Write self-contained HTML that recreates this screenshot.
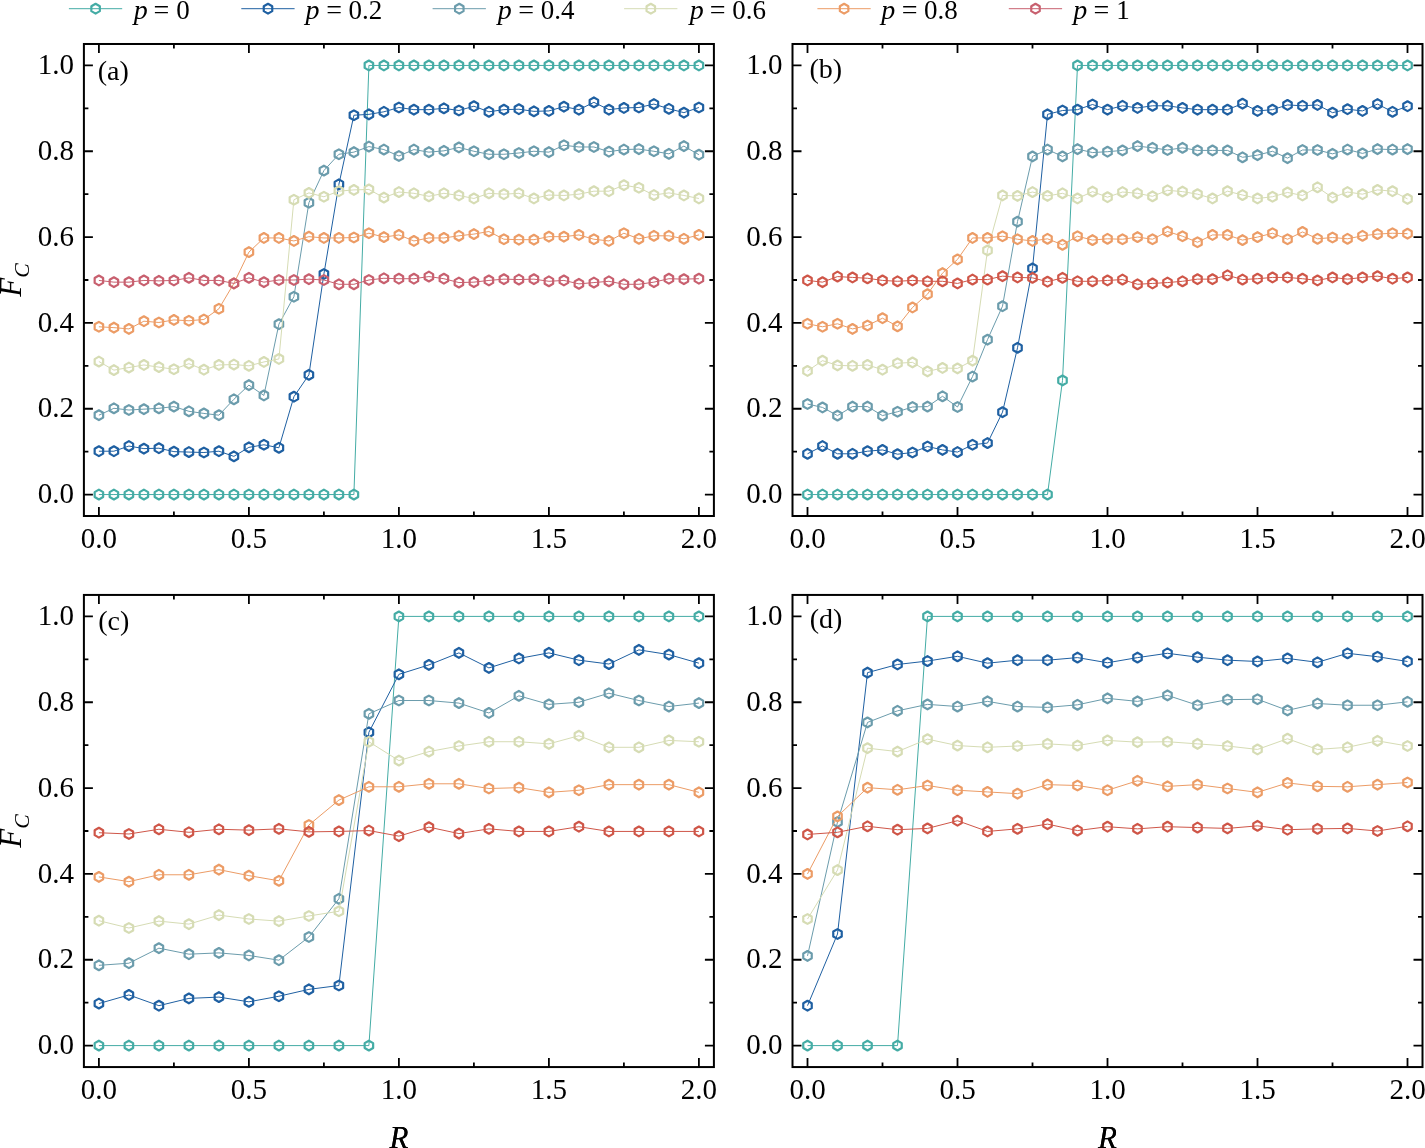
<!DOCTYPE html><html><head><meta charset="utf-8"><title>F_C vs R</title><style>html,body{margin:0;padding:0;background:#fff;}svg{display:block;}text{font-family:"Liberation Serif","Times New Roman",serif;fill:#000;}</style></head><body>
<svg width="1425" height="1148" viewBox="0 0 1425 1148">
<rect width="1425" height="1148" fill="#fff"/>
<g>
<polyline fill="none" stroke="#44aca5" stroke-width="1.00" stroke-linejoin="round" points="98.90,494.55 113.90,494.55 128.90,494.55 143.90,494.55 158.90,494.55 173.90,494.55 188.90,494.55 203.90,494.55 218.90,494.55 233.90,494.55 248.90,494.55 263.90,494.55 278.90,494.55 293.90,494.55 308.90,494.55 323.90,494.55 338.90,494.55 353.90,494.55 368.90,65.45 383.90,65.45 398.90,65.45 413.90,65.45 428.90,65.45 443.90,65.45 458.90,65.45 473.90,65.45 488.90,65.45 503.90,65.45 518.90,65.45 533.90,65.45 548.90,65.45 563.90,65.45 578.90,65.45 593.90,65.45 608.90,65.45 623.90,65.45 638.90,65.45 653.90,65.45 668.90,65.45 683.90,65.45 698.90,65.45"/>
<path fill="none" stroke="#44aca5" stroke-width="2.20" stroke-linejoin="round" d="M98.90,489.65L94.66,492.10L94.66,497.00L98.90,499.45L103.14,497.00L103.14,492.10ZM113.90,489.65L109.66,492.10L109.66,497.00L113.90,499.45L118.14,497.00L118.14,492.10ZM128.90,489.65L124.66,492.10L124.66,497.00L128.90,499.45L133.14,497.00L133.14,492.10ZM143.90,489.65L139.66,492.10L139.66,497.00L143.90,499.45L148.14,497.00L148.14,492.10ZM158.90,489.65L154.66,492.10L154.66,497.00L158.90,499.45L163.14,497.00L163.14,492.10ZM173.90,489.65L169.66,492.10L169.66,497.00L173.90,499.45L178.14,497.00L178.14,492.10ZM188.90,489.65L184.66,492.10L184.66,497.00L188.90,499.45L193.14,497.00L193.14,492.10ZM203.90,489.65L199.66,492.10L199.66,497.00L203.90,499.45L208.14,497.00L208.14,492.10ZM218.90,489.65L214.66,492.10L214.66,497.00L218.90,499.45L223.14,497.00L223.14,492.10ZM233.90,489.65L229.66,492.10L229.66,497.00L233.90,499.45L238.14,497.00L238.14,492.10ZM248.90,489.65L244.66,492.10L244.66,497.00L248.90,499.45L253.14,497.00L253.14,492.10ZM263.90,489.65L259.66,492.10L259.66,497.00L263.90,499.45L268.14,497.00L268.14,492.10ZM278.90,489.65L274.66,492.10L274.66,497.00L278.90,499.45L283.14,497.00L283.14,492.10ZM293.90,489.65L289.66,492.10L289.66,497.00L293.90,499.45L298.14,497.00L298.14,492.10ZM308.90,489.65L304.66,492.10L304.66,497.00L308.90,499.45L313.14,497.00L313.14,492.10ZM323.90,489.65L319.66,492.10L319.66,497.00L323.90,499.45L328.14,497.00L328.14,492.10ZM338.90,489.65L334.66,492.10L334.66,497.00L338.90,499.45L343.14,497.00L343.14,492.10ZM353.90,489.65L349.66,492.10L349.66,497.00L353.90,499.45L358.14,497.00L358.14,492.10ZM368.90,60.55L364.66,63.00L364.66,67.90L368.90,70.35L373.14,67.90L373.14,63.00ZM383.90,60.55L379.66,63.00L379.66,67.90L383.90,70.35L388.14,67.90L388.14,63.00ZM398.90,60.55L394.66,63.00L394.66,67.90L398.90,70.35L403.14,67.90L403.14,63.00ZM413.90,60.55L409.66,63.00L409.66,67.90L413.90,70.35L418.14,67.90L418.14,63.00ZM428.90,60.55L424.66,63.00L424.66,67.90L428.90,70.35L433.14,67.90L433.14,63.00ZM443.90,60.55L439.66,63.00L439.66,67.90L443.90,70.35L448.14,67.90L448.14,63.00ZM458.90,60.55L454.66,63.00L454.66,67.90L458.90,70.35L463.14,67.90L463.14,63.00ZM473.90,60.55L469.66,63.00L469.66,67.90L473.90,70.35L478.14,67.90L478.14,63.00ZM488.90,60.55L484.66,63.00L484.66,67.90L488.90,70.35L493.14,67.90L493.14,63.00ZM503.90,60.55L499.66,63.00L499.66,67.90L503.90,70.35L508.14,67.90L508.14,63.00ZM518.90,60.55L514.66,63.00L514.66,67.90L518.90,70.35L523.14,67.90L523.14,63.00ZM533.90,60.55L529.66,63.00L529.66,67.90L533.90,70.35L538.14,67.90L538.14,63.00ZM548.90,60.55L544.66,63.00L544.66,67.90L548.90,70.35L553.14,67.90L553.14,63.00ZM563.90,60.55L559.66,63.00L559.66,67.90L563.90,70.35L568.14,67.90L568.14,63.00ZM578.90,60.55L574.66,63.00L574.66,67.90L578.90,70.35L583.14,67.90L583.14,63.00ZM593.90,60.55L589.66,63.00L589.66,67.90L593.90,70.35L598.14,67.90L598.14,63.00ZM608.90,60.55L604.66,63.00L604.66,67.90L608.90,70.35L613.14,67.90L613.14,63.00ZM623.90,60.55L619.66,63.00L619.66,67.90L623.90,70.35L628.14,67.90L628.14,63.00ZM638.90,60.55L634.66,63.00L634.66,67.90L638.90,70.35L643.14,67.90L643.14,63.00ZM653.90,60.55L649.66,63.00L649.66,67.90L653.90,70.35L658.14,67.90L658.14,63.00ZM668.90,60.55L664.66,63.00L664.66,67.90L668.90,70.35L673.14,67.90L673.14,63.00ZM683.90,60.55L679.66,63.00L679.66,67.90L683.90,70.35L688.14,67.90L688.14,63.00ZM698.90,60.55L694.66,63.00L694.66,67.90L698.90,70.35L703.14,67.90L703.14,63.00Z"/>
<polyline fill="none" stroke="#1f60a2" stroke-width="1.00" stroke-linejoin="round" points="98.90,451.21 113.90,451.21 128.90,446.06 143.90,448.64 158.90,448.21 173.90,451.64 188.90,452.07 203.90,452.50 218.90,451.21 233.90,456.36 248.90,447.35 263.90,444.77 278.90,447.78 293.90,396.72 308.90,374.83 323.90,273.99 338.90,184.31 353.90,115.23 368.90,114.37 383.90,111.79 398.90,107.50 413.90,109.65 428.90,109.65 443.90,108.36 458.90,110.51 473.90,106.21 488.90,111.79 503.90,109.65 518.90,109.22 533.90,111.36 548.90,110.93 563.90,106.64 578.90,109.65 593.90,102.35 608.90,109.65 623.90,107.93 638.90,107.50 653.90,104.07 668.90,108.79 683.90,112.65 698.90,107.50"/>
<path fill="none" stroke="#1f60a2" stroke-width="2.20" stroke-linejoin="round" d="M98.90,446.31L94.66,448.76L94.66,453.66L98.90,456.11L103.14,453.66L103.14,448.76ZM113.90,446.31L109.66,448.76L109.66,453.66L113.90,456.11L118.14,453.66L118.14,448.76ZM128.90,441.16L124.66,443.61L124.66,448.51L128.90,450.96L133.14,448.51L133.14,443.61ZM143.90,443.74L139.66,446.19L139.66,451.09L143.90,453.54L148.14,451.09L148.14,446.19ZM158.90,443.31L154.66,445.76L154.66,450.66L158.90,453.11L163.14,450.66L163.14,445.76ZM173.90,446.74L169.66,449.19L169.66,454.09L173.90,456.54L178.14,454.09L178.14,449.19ZM188.90,447.17L184.66,449.62L184.66,454.52L188.90,456.97L193.14,454.52L193.14,449.62ZM203.90,447.60L199.66,450.05L199.66,454.95L203.90,457.40L208.14,454.95L208.14,450.05ZM218.90,446.31L214.66,448.76L214.66,453.66L218.90,456.11L223.14,453.66L223.14,448.76ZM233.90,451.46L229.66,453.91L229.66,458.81L233.90,461.26L238.14,458.81L238.14,453.91ZM248.90,442.45L244.66,444.90L244.66,449.80L248.90,452.25L253.14,449.80L253.14,444.90ZM263.90,439.87L259.66,442.32L259.66,447.22L263.90,449.67L268.14,447.22L268.14,442.32ZM278.90,442.88L274.66,445.33L274.66,450.23L278.90,452.68L283.14,450.23L283.14,445.33ZM293.90,391.82L289.66,394.27L289.66,399.17L293.90,401.62L298.14,399.17L298.14,394.27ZM308.90,369.93L304.66,372.38L304.66,377.28L308.90,379.73L313.14,377.28L313.14,372.38ZM323.90,269.09L319.66,271.54L319.66,276.44L323.90,278.89L328.14,276.44L328.14,271.54ZM338.90,179.41L334.66,181.86L334.66,186.76L338.90,189.21L343.14,186.76L343.14,181.86ZM353.90,110.33L349.66,112.78L349.66,117.68L353.90,120.13L358.14,117.68L358.14,112.78ZM368.90,109.47L364.66,111.92L364.66,116.82L368.90,119.27L373.14,116.82L373.14,111.92ZM383.90,106.89L379.66,109.34L379.66,114.24L383.90,116.69L388.14,114.24L388.14,109.34ZM398.90,102.60L394.66,105.05L394.66,109.95L398.90,112.40L403.14,109.95L403.14,105.05ZM413.90,104.75L409.66,107.20L409.66,112.10L413.90,114.55L418.14,112.10L418.14,107.20ZM428.90,104.75L424.66,107.20L424.66,112.10L428.90,114.55L433.14,112.10L433.14,107.20ZM443.90,103.46L439.66,105.91L439.66,110.81L443.90,113.26L448.14,110.81L448.14,105.91ZM458.90,105.61L454.66,108.06L454.66,112.96L458.90,115.41L463.14,112.96L463.14,108.06ZM473.90,101.31L469.66,103.76L469.66,108.66L473.90,111.11L478.14,108.66L478.14,103.76ZM488.90,106.89L484.66,109.34L484.66,114.24L488.90,116.69L493.14,114.24L493.14,109.34ZM503.90,104.75L499.66,107.20L499.66,112.10L503.90,114.55L508.14,112.10L508.14,107.20ZM518.90,104.32L514.66,106.77L514.66,111.67L518.90,114.12L523.14,111.67L523.14,106.77ZM533.90,106.46L529.66,108.91L529.66,113.81L533.90,116.26L538.14,113.81L538.14,108.91ZM548.90,106.03L544.66,108.48L544.66,113.38L548.90,115.83L553.14,113.38L553.14,108.48ZM563.90,101.74L559.66,104.19L559.66,109.09L563.90,111.54L568.14,109.09L568.14,104.19ZM578.90,104.75L574.66,107.20L574.66,112.10L578.90,114.55L583.14,112.10L583.14,107.20ZM593.90,97.45L589.66,99.90L589.66,104.80L593.90,107.25L598.14,104.80L598.14,99.90ZM608.90,104.75L604.66,107.20L604.66,112.10L608.90,114.55L613.14,112.10L613.14,107.20ZM623.90,103.03L619.66,105.48L619.66,110.38L623.90,112.83L628.14,110.38L628.14,105.48ZM638.90,102.60L634.66,105.05L634.66,109.95L638.90,112.40L643.14,109.95L643.14,105.05ZM653.90,99.17L649.66,101.62L649.66,106.52L653.90,108.97L658.14,106.52L658.14,101.62ZM668.90,103.89L664.66,106.34L664.66,111.24L668.90,113.69L673.14,111.24L673.14,106.34ZM683.90,107.75L679.66,110.20L679.66,115.10L683.90,117.55L688.14,115.10L688.14,110.20ZM698.90,102.60L694.66,105.05L694.66,109.95L698.90,112.40L703.14,109.95L703.14,105.05Z"/>
<polyline fill="none" stroke="#6b9cac" stroke-width="1.00" stroke-linejoin="round" points="98.90,415.17 113.90,408.30 128.90,410.02 143.90,409.16 158.90,408.30 173.90,406.58 188.90,411.30 203.90,413.45 218.90,415.17 233.90,399.29 248.90,385.13 263.90,395.43 278.90,324.20 293.90,296.73 308.90,202.76 323.90,170.58 338.90,154.27 353.90,152.13 368.90,146.55 383.90,149.55 398.90,155.99 413.90,149.55 428.90,152.13 443.90,150.84 458.90,147.41 473.90,151.27 488.90,154.27 503.90,154.27 518.90,152.99 533.90,151.27 548.90,152.13 563.90,145.26 578.90,146.98 593.90,146.98 608.90,151.70 623.90,149.55 638.90,149.12 653.90,151.27 668.90,153.84 683.90,146.12 698.90,154.70"/>
<path fill="none" stroke="#6b9cac" stroke-width="2.20" stroke-linejoin="round" d="M98.90,410.27L94.66,412.72L94.66,417.62L98.90,420.07L103.14,417.62L103.14,412.72ZM113.90,403.40L109.66,405.85L109.66,410.75L113.90,413.20L118.14,410.75L118.14,405.85ZM128.90,405.12L124.66,407.57L124.66,412.47L128.90,414.92L133.14,412.47L133.14,407.57ZM143.90,404.26L139.66,406.71L139.66,411.61L143.90,414.06L148.14,411.61L148.14,406.71ZM158.90,403.40L154.66,405.85L154.66,410.75L158.90,413.20L163.14,410.75L163.14,405.85ZM173.90,401.68L169.66,404.13L169.66,409.03L173.90,411.48L178.14,409.03L178.14,404.13ZM188.90,406.40L184.66,408.85L184.66,413.75L188.90,416.20L193.14,413.75L193.14,408.85ZM203.90,408.55L199.66,411.00L199.66,415.90L203.90,418.35L208.14,415.90L208.14,411.00ZM218.90,410.27L214.66,412.72L214.66,417.62L218.90,420.07L223.14,417.62L223.14,412.72ZM233.90,394.39L229.66,396.84L229.66,401.74L233.90,404.19L238.14,401.74L238.14,396.84ZM248.90,380.23L244.66,382.68L244.66,387.58L248.90,390.03L253.14,387.58L253.14,382.68ZM263.90,390.53L259.66,392.98L259.66,397.88L263.90,400.33L268.14,397.88L268.14,392.98ZM278.90,319.30L274.66,321.75L274.66,326.65L278.90,329.10L283.14,326.65L283.14,321.75ZM293.90,291.83L289.66,294.28L289.66,299.18L293.90,301.63L298.14,299.18L298.14,294.28ZM308.90,197.86L304.66,200.31L304.66,205.21L308.90,207.66L313.14,205.21L313.14,200.31ZM323.90,165.68L319.66,168.13L319.66,173.03L323.90,175.48L328.14,173.03L328.14,168.13ZM338.90,149.37L334.66,151.82L334.66,156.72L338.90,159.17L343.14,156.72L343.14,151.82ZM353.90,147.23L349.66,149.68L349.66,154.58L353.90,157.03L358.14,154.58L358.14,149.68ZM368.90,141.65L364.66,144.10L364.66,149.00L368.90,151.45L373.14,149.00L373.14,144.10ZM383.90,144.65L379.66,147.10L379.66,152.00L383.90,154.45L388.14,152.00L388.14,147.10ZM398.90,151.09L394.66,153.54L394.66,158.44L398.90,160.89L403.14,158.44L403.14,153.54ZM413.90,144.65L409.66,147.10L409.66,152.00L413.90,154.45L418.14,152.00L418.14,147.10ZM428.90,147.23L424.66,149.68L424.66,154.58L428.90,157.03L433.14,154.58L433.14,149.68ZM443.90,145.94L439.66,148.39L439.66,153.29L443.90,155.74L448.14,153.29L448.14,148.39ZM458.90,142.51L454.66,144.96L454.66,149.86L458.90,152.31L463.14,149.86L463.14,144.96ZM473.90,146.37L469.66,148.82L469.66,153.72L473.90,156.17L478.14,153.72L478.14,148.82ZM488.90,149.37L484.66,151.82L484.66,156.72L488.90,159.17L493.14,156.72L493.14,151.82ZM503.90,149.37L499.66,151.82L499.66,156.72L503.90,159.17L508.14,156.72L508.14,151.82ZM518.90,148.09L514.66,150.54L514.66,155.44L518.90,157.89L523.14,155.44L523.14,150.54ZM533.90,146.37L529.66,148.82L529.66,153.72L533.90,156.17L538.14,153.72L538.14,148.82ZM548.90,147.23L544.66,149.68L544.66,154.58L548.90,157.03L553.14,154.58L553.14,149.68ZM563.90,140.36L559.66,142.81L559.66,147.71L563.90,150.16L568.14,147.71L568.14,142.81ZM578.90,142.08L574.66,144.53L574.66,149.43L578.90,151.88L583.14,149.43L583.14,144.53ZM593.90,142.08L589.66,144.53L589.66,149.43L593.90,151.88L598.14,149.43L598.14,144.53ZM608.90,146.80L604.66,149.25L604.66,154.15L608.90,156.60L613.14,154.15L613.14,149.25ZM623.90,144.65L619.66,147.10L619.66,152.00L623.90,154.45L628.14,152.00L628.14,147.10ZM638.90,144.22L634.66,146.67L634.66,151.57L638.90,154.02L643.14,151.57L643.14,146.67ZM653.90,146.37L649.66,148.82L649.66,153.72L653.90,156.17L658.14,153.72L658.14,148.82ZM668.90,148.94L664.66,151.39L664.66,156.29L668.90,158.74L673.14,156.29L673.14,151.39ZM683.90,141.22L679.66,143.67L679.66,148.57L683.90,151.02L688.14,148.57L688.14,143.67ZM698.90,149.80L694.66,152.25L694.66,157.15L698.90,159.60L703.14,157.15L703.14,152.25Z"/>
<polyline fill="none" stroke="#d6dcb4" stroke-width="1.00" stroke-linejoin="round" points="98.90,361.53 113.90,370.11 128.90,367.54 143.90,364.96 158.90,367.11 173.90,369.25 188.90,363.67 203.90,369.68 218.90,364.96 233.90,364.53 248.90,365.82 263.90,361.96 278.90,358.95 293.90,199.76 308.90,192.89 323.90,196.75 338.90,191.18 353.90,189.89 368.90,189.46 383.90,197.61 398.90,192.03 413.90,193.32 428.90,196.33 443.90,193.32 458.90,195.47 473.90,198.47 488.90,193.32 503.90,194.18 518.90,193.32 533.90,198.47 548.90,195.04 563.90,195.47 578.90,194.18 593.90,191.18 608.90,191.18 623.90,185.17 638.90,187.74 653.90,195.04 668.90,192.89 683.90,195.47 698.90,198.47"/>
<path fill="none" stroke="#d6dcb4" stroke-width="2.20" stroke-linejoin="round" d="M98.90,356.63L94.66,359.08L94.66,363.98L98.90,366.43L103.14,363.98L103.14,359.08ZM113.90,365.21L109.66,367.66L109.66,372.56L113.90,375.01L118.14,372.56L118.14,367.66ZM128.90,362.64L124.66,365.09L124.66,369.99L128.90,372.44L133.14,369.99L133.14,365.09ZM143.90,360.06L139.66,362.51L139.66,367.41L143.90,369.86L148.14,367.41L148.14,362.51ZM158.90,362.21L154.66,364.66L154.66,369.56L158.90,372.01L163.14,369.56L163.14,364.66ZM173.90,364.35L169.66,366.80L169.66,371.70L173.90,374.15L178.14,371.70L178.14,366.80ZM188.90,358.77L184.66,361.22L184.66,366.12L188.90,368.57L193.14,366.12L193.14,361.22ZM203.90,364.78L199.66,367.23L199.66,372.13L203.90,374.58L208.14,372.13L208.14,367.23ZM218.90,360.06L214.66,362.51L214.66,367.41L218.90,369.86L223.14,367.41L223.14,362.51ZM233.90,359.63L229.66,362.08L229.66,366.98L233.90,369.43L238.14,366.98L238.14,362.08ZM248.90,360.92L244.66,363.37L244.66,368.27L248.90,370.72L253.14,368.27L253.14,363.37ZM263.90,357.06L259.66,359.51L259.66,364.41L263.90,366.86L268.14,364.41L268.14,359.51ZM278.90,354.05L274.66,356.50L274.66,361.40L278.90,363.85L283.14,361.40L283.14,356.50ZM293.90,194.86L289.66,197.31L289.66,202.21L293.90,204.66L298.14,202.21L298.14,197.31ZM308.90,187.99L304.66,190.44L304.66,195.34L308.90,197.79L313.14,195.34L313.14,190.44ZM323.90,191.85L319.66,194.30L319.66,199.20L323.90,201.65L328.14,199.20L328.14,194.30ZM338.90,186.28L334.66,188.73L334.66,193.63L338.90,196.08L343.14,193.63L343.14,188.73ZM353.90,184.99L349.66,187.44L349.66,192.34L353.90,194.79L358.14,192.34L358.14,187.44ZM368.90,184.56L364.66,187.01L364.66,191.91L368.90,194.36L373.14,191.91L373.14,187.01ZM383.90,192.71L379.66,195.16L379.66,200.06L383.90,202.51L388.14,200.06L388.14,195.16ZM398.90,187.13L394.66,189.58L394.66,194.48L398.90,196.93L403.14,194.48L403.14,189.58ZM413.90,188.42L409.66,190.87L409.66,195.77L413.90,198.22L418.14,195.77L418.14,190.87ZM428.90,191.43L424.66,193.88L424.66,198.78L428.90,201.23L433.14,198.78L433.14,193.88ZM443.90,188.42L439.66,190.87L439.66,195.77L443.90,198.22L448.14,195.77L448.14,190.87ZM458.90,190.57L454.66,193.02L454.66,197.92L458.90,200.37L463.14,197.92L463.14,193.02ZM473.90,193.57L469.66,196.02L469.66,200.92L473.90,203.37L478.14,200.92L478.14,196.02ZM488.90,188.42L484.66,190.87L484.66,195.77L488.90,198.22L493.14,195.77L493.14,190.87ZM503.90,189.28L499.66,191.73L499.66,196.63L503.90,199.08L508.14,196.63L508.14,191.73ZM518.90,188.42L514.66,190.87L514.66,195.77L518.90,198.22L523.14,195.77L523.14,190.87ZM533.90,193.57L529.66,196.02L529.66,200.92L533.90,203.37L538.14,200.92L538.14,196.02ZM548.90,190.14L544.66,192.59L544.66,197.49L548.90,199.94L553.14,197.49L553.14,192.59ZM563.90,190.57L559.66,193.02L559.66,197.92L563.90,200.37L568.14,197.92L568.14,193.02ZM578.90,189.28L574.66,191.73L574.66,196.63L578.90,199.08L583.14,196.63L583.14,191.73ZM593.90,186.28L589.66,188.73L589.66,193.63L593.90,196.08L598.14,193.63L598.14,188.73ZM608.90,186.28L604.66,188.73L604.66,193.63L608.90,196.08L613.14,193.63L613.14,188.73ZM623.90,180.27L619.66,182.72L619.66,187.62L623.90,190.07L628.14,187.62L628.14,182.72ZM638.90,182.84L634.66,185.29L634.66,190.19L638.90,192.64L643.14,190.19L643.14,185.29ZM653.90,190.14L649.66,192.59L649.66,197.49L653.90,199.94L658.14,197.49L658.14,192.59ZM668.90,187.99L664.66,190.44L664.66,195.34L668.90,197.79L673.14,195.34L673.14,190.44ZM683.90,190.57L679.66,193.02L679.66,197.92L683.90,200.37L688.14,197.92L688.14,193.02ZM698.90,193.57L694.66,196.02L694.66,200.92L698.90,203.37L703.14,200.92L703.14,196.02Z"/>
<polyline fill="none" stroke="#ec9c66" stroke-width="1.00" stroke-linejoin="round" points="98.90,326.77 113.90,327.63 128.90,328.92 143.90,321.19 158.90,322.48 173.90,319.91 188.90,320.76 203.90,319.48 218.90,308.75 233.90,283.43 248.90,252.11 263.90,237.95 278.90,237.95 293.90,240.95 308.90,236.66 323.90,237.95 338.90,237.95 353.90,237.52 368.90,233.23 383.90,237.09 398.90,234.94 413.90,240.95 428.90,237.95 443.90,237.95 458.90,235.80 473.90,234.09 488.90,231.51 503.90,239.24 518.90,239.66 533.90,239.66 548.90,236.66 563.90,236.66 578.90,234.94 593.90,239.24 608.90,240.95 623.90,233.23 638.90,238.81 653.90,235.80 668.90,235.80 683.90,238.81 698.90,234.94"/>
<path fill="none" stroke="#ec9c66" stroke-width="2.20" stroke-linejoin="round" d="M98.90,321.87L94.66,324.32L94.66,329.22L98.90,331.67L103.14,329.22L103.14,324.32ZM113.90,322.73L109.66,325.18L109.66,330.08L113.90,332.53L118.14,330.08L118.14,325.18ZM128.90,324.02L124.66,326.47L124.66,331.37L128.90,333.82L133.14,331.37L133.14,326.47ZM143.90,316.29L139.66,318.74L139.66,323.64L143.90,326.09L148.14,323.64L148.14,318.74ZM158.90,317.58L154.66,320.03L154.66,324.93L158.90,327.38L163.14,324.93L163.14,320.03ZM173.90,315.01L169.66,317.46L169.66,322.36L173.90,324.81L178.14,322.36L178.14,317.46ZM188.90,315.86L184.66,318.31L184.66,323.21L188.90,325.66L193.14,323.21L193.14,318.31ZM203.90,314.58L199.66,317.03L199.66,321.93L203.90,324.38L208.14,321.93L208.14,317.03ZM218.90,303.85L214.66,306.30L214.66,311.20L218.90,313.65L223.14,311.20L223.14,306.30ZM233.90,278.53L229.66,280.98L229.66,285.88L233.90,288.33L238.14,285.88L238.14,280.98ZM248.90,247.21L244.66,249.66L244.66,254.56L248.90,257.01L253.14,254.56L253.14,249.66ZM263.90,233.05L259.66,235.50L259.66,240.40L263.90,242.85L268.14,240.40L268.14,235.50ZM278.90,233.05L274.66,235.50L274.66,240.40L278.90,242.85L283.14,240.40L283.14,235.50ZM293.90,236.05L289.66,238.50L289.66,243.40L293.90,245.85L298.14,243.40L298.14,238.50ZM308.90,231.76L304.66,234.21L304.66,239.11L308.90,241.56L313.14,239.11L313.14,234.21ZM323.90,233.05L319.66,235.50L319.66,240.40L323.90,242.85L328.14,240.40L328.14,235.50ZM338.90,233.05L334.66,235.50L334.66,240.40L338.90,242.85L343.14,240.40L343.14,235.50ZM353.90,232.62L349.66,235.07L349.66,239.97L353.90,242.42L358.14,239.97L358.14,235.07ZM368.90,228.33L364.66,230.78L364.66,235.68L368.90,238.13L373.14,235.68L373.14,230.78ZM383.90,232.19L379.66,234.64L379.66,239.54L383.90,241.99L388.14,239.54L388.14,234.64ZM398.90,230.04L394.66,232.49L394.66,237.39L398.90,239.84L403.14,237.39L403.14,232.49ZM413.90,236.05L409.66,238.50L409.66,243.40L413.90,245.85L418.14,243.40L418.14,238.50ZM428.90,233.05L424.66,235.50L424.66,240.40L428.90,242.85L433.14,240.40L433.14,235.50ZM443.90,233.05L439.66,235.50L439.66,240.40L443.90,242.85L448.14,240.40L448.14,235.50ZM458.90,230.90L454.66,233.35L454.66,238.25L458.90,240.70L463.14,238.25L463.14,233.35ZM473.90,229.19L469.66,231.64L469.66,236.54L473.90,238.99L478.14,236.54L478.14,231.64ZM488.90,226.61L484.66,229.06L484.66,233.96L488.90,236.41L493.14,233.96L493.14,229.06ZM503.90,234.34L499.66,236.79L499.66,241.69L503.90,244.14L508.14,241.69L508.14,236.79ZM518.90,234.76L514.66,237.21L514.66,242.11L518.90,244.56L523.14,242.11L523.14,237.21ZM533.90,234.76L529.66,237.21L529.66,242.11L533.90,244.56L538.14,242.11L538.14,237.21ZM548.90,231.76L544.66,234.21L544.66,239.11L548.90,241.56L553.14,239.11L553.14,234.21ZM563.90,231.76L559.66,234.21L559.66,239.11L563.90,241.56L568.14,239.11L568.14,234.21ZM578.90,230.04L574.66,232.49L574.66,237.39L578.90,239.84L583.14,237.39L583.14,232.49ZM593.90,234.34L589.66,236.79L589.66,241.69L593.90,244.14L598.14,241.69L598.14,236.79ZM608.90,236.05L604.66,238.50L604.66,243.40L608.90,245.85L613.14,243.40L613.14,238.50ZM623.90,228.33L619.66,230.78L619.66,235.68L623.90,238.13L628.14,235.68L628.14,230.78ZM638.90,233.91L634.66,236.36L634.66,241.26L638.90,243.71L643.14,241.26L643.14,236.36ZM653.90,230.90L649.66,233.35L649.66,238.25L653.90,240.70L658.14,238.25L658.14,233.35ZM668.90,230.90L664.66,233.35L664.66,238.25L668.90,240.70L673.14,238.25L673.14,233.35ZM683.90,233.91L679.66,236.36L679.66,241.26L683.90,243.71L688.14,241.26L688.14,236.36ZM698.90,230.04L694.66,232.49L694.66,237.39L698.90,239.84L703.14,237.39L703.14,232.49Z"/>
<polyline fill="none" stroke="#c8606f" stroke-width="1.00" stroke-linejoin="round" points="98.90,280.43 113.90,282.15 128.90,282.15 143.90,280.43 158.90,280.86 173.90,280.43 188.90,277.85 203.90,280.43 218.90,280.43 233.90,283.43 248.90,277.85 263.90,282.15 278.90,280.00 293.90,280.00 308.90,279.14 323.90,280.00 338.90,284.29 353.90,284.29 368.90,280.00 383.90,278.28 398.90,278.71 413.90,278.71 428.90,276.57 443.90,278.71 458.90,282.57 473.90,282.15 488.90,280.43 503.90,279.14 518.90,279.57 533.90,279.14 548.90,281.29 563.90,280.43 578.90,283.86 593.90,282.57 608.90,281.29 623.90,284.29 638.90,284.29 653.90,282.15 668.90,278.71 683.90,279.14 698.90,278.71"/>
<path fill="none" stroke="#c8606f" stroke-width="2.20" stroke-linejoin="round" d="M98.90,275.53L94.66,277.98L94.66,282.88L98.90,285.33L103.14,282.88L103.14,277.98ZM113.90,277.25L109.66,279.70L109.66,284.60L113.90,287.05L118.14,284.60L118.14,279.70ZM128.90,277.25L124.66,279.70L124.66,284.60L128.90,287.05L133.14,284.60L133.14,279.70ZM143.90,275.53L139.66,277.98L139.66,282.88L143.90,285.33L148.14,282.88L148.14,277.98ZM158.90,275.96L154.66,278.41L154.66,283.31L158.90,285.76L163.14,283.31L163.14,278.41ZM173.90,275.53L169.66,277.98L169.66,282.88L173.90,285.33L178.14,282.88L178.14,277.98ZM188.90,272.95L184.66,275.40L184.66,280.30L188.90,282.75L193.14,280.30L193.14,275.40ZM203.90,275.53L199.66,277.98L199.66,282.88L203.90,285.33L208.14,282.88L208.14,277.98ZM218.90,275.53L214.66,277.98L214.66,282.88L218.90,285.33L223.14,282.88L223.14,277.98ZM233.90,278.53L229.66,280.98L229.66,285.88L233.90,288.33L238.14,285.88L238.14,280.98ZM248.90,272.95L244.66,275.40L244.66,280.30L248.90,282.75L253.14,280.30L253.14,275.40ZM263.90,277.25L259.66,279.70L259.66,284.60L263.90,287.05L268.14,284.60L268.14,279.70ZM278.90,275.10L274.66,277.55L274.66,282.45L278.90,284.90L283.14,282.45L283.14,277.55ZM293.90,275.10L289.66,277.55L289.66,282.45L293.90,284.90L298.14,282.45L298.14,277.55ZM308.90,274.24L304.66,276.69L304.66,281.59L308.90,284.04L313.14,281.59L313.14,276.69ZM323.90,275.10L319.66,277.55L319.66,282.45L323.90,284.90L328.14,282.45L328.14,277.55ZM338.90,279.39L334.66,281.84L334.66,286.74L338.90,289.19L343.14,286.74L343.14,281.84ZM353.90,279.39L349.66,281.84L349.66,286.74L353.90,289.19L358.14,286.74L358.14,281.84ZM368.90,275.10L364.66,277.55L364.66,282.45L368.90,284.90L373.14,282.45L373.14,277.55ZM383.90,273.38L379.66,275.83L379.66,280.73L383.90,283.18L388.14,280.73L388.14,275.83ZM398.90,273.81L394.66,276.26L394.66,281.16L398.90,283.61L403.14,281.16L403.14,276.26ZM413.90,273.81L409.66,276.26L409.66,281.16L413.90,283.61L418.14,281.16L418.14,276.26ZM428.90,271.67L424.66,274.12L424.66,279.02L428.90,281.47L433.14,279.02L433.14,274.12ZM443.90,273.81L439.66,276.26L439.66,281.16L443.90,283.61L448.14,281.16L448.14,276.26ZM458.90,277.67L454.66,280.12L454.66,285.02L458.90,287.47L463.14,285.02L463.14,280.12ZM473.90,277.25L469.66,279.70L469.66,284.60L473.90,287.05L478.14,284.60L478.14,279.70ZM488.90,275.53L484.66,277.98L484.66,282.88L488.90,285.33L493.14,282.88L493.14,277.98ZM503.90,274.24L499.66,276.69L499.66,281.59L503.90,284.04L508.14,281.59L508.14,276.69ZM518.90,274.67L514.66,277.12L514.66,282.02L518.90,284.47L523.14,282.02L523.14,277.12ZM533.90,274.24L529.66,276.69L529.66,281.59L533.90,284.04L538.14,281.59L538.14,276.69ZM548.90,276.39L544.66,278.84L544.66,283.74L548.90,286.19L553.14,283.74L553.14,278.84ZM563.90,275.53L559.66,277.98L559.66,282.88L563.90,285.33L568.14,282.88L568.14,277.98ZM578.90,278.96L574.66,281.41L574.66,286.31L578.90,288.76L583.14,286.31L583.14,281.41ZM593.90,277.67L589.66,280.12L589.66,285.02L593.90,287.47L598.14,285.02L598.14,280.12ZM608.90,276.39L604.66,278.84L604.66,283.74L608.90,286.19L613.14,283.74L613.14,278.84ZM623.90,279.39L619.66,281.84L619.66,286.74L623.90,289.19L628.14,286.74L628.14,281.84ZM638.90,279.39L634.66,281.84L634.66,286.74L638.90,289.19L643.14,286.74L643.14,281.84ZM653.90,277.25L649.66,279.70L649.66,284.60L653.90,287.05L658.14,284.60L658.14,279.70ZM668.90,273.81L664.66,276.26L664.66,281.16L668.90,283.61L673.14,281.16L673.14,276.26ZM683.90,274.24L679.66,276.69L679.66,281.59L683.90,284.04L688.14,281.59L688.14,276.69ZM698.90,273.81L694.66,276.26L694.66,281.16L698.90,283.61L703.14,281.16L703.14,276.26Z"/>
<path fill="none" stroke="#000" stroke-width="1.8" d="M98.90,516.00v-9M98.90,43.99v9M248.90,516.00v-9M248.90,43.99v9M398.90,516.00v-9M398.90,43.99v9M548.90,516.00v-9M548.90,43.99v9M698.90,516.00v-9M698.90,43.99v9M173.90,516.00v-4.5M173.90,43.99v4.5M323.90,516.00v-4.5M323.90,43.99v4.5M473.90,516.00v-4.5M473.90,43.99v4.5M623.90,516.00v-4.5M623.90,43.99v4.5M83.90,494.55h9M713.90,494.55h-9M83.90,408.73h9M713.90,408.73h-9M83.90,322.91h9M713.90,322.91h-9M83.90,237.09h9M713.90,237.09h-9M83.90,151.27h9M713.90,151.27h-9M83.90,65.45h9M713.90,65.45h-9M83.90,451.64h4.5M713.90,451.64h-4.5M83.90,365.82h4.5M713.90,365.82h-4.5M83.90,280.00h4.5M713.90,280.00h-4.5M83.90,194.18h4.5M713.90,194.18h-4.5M83.90,108.36h4.5M713.90,108.36h-4.5"/>
<rect x="83.90" y="43.99" width="630.00" height="472.01" fill="none" stroke="#000" stroke-width="2"/>
<text x="98.90" y="547.61" font-size="29" text-anchor="middle">0.0</text>
<text x="248.90" y="547.61" font-size="29" text-anchor="middle">0.5</text>
<text x="398.90" y="547.61" font-size="29" text-anchor="middle">1.0</text>
<text x="548.90" y="547.61" font-size="29" text-anchor="middle">1.5</text>
<text x="698.90" y="547.61" font-size="29" text-anchor="middle">2.0</text>
<text x="73.90" y="503.15" font-size="29" text-anchor="end">0.0</text>
<text x="73.90" y="417.33" font-size="29" text-anchor="end">0.2</text>
<text x="73.90" y="331.51" font-size="29" text-anchor="end">0.4</text>
<text x="73.90" y="245.69" font-size="29" text-anchor="end">0.6</text>
<text x="73.90" y="159.87" font-size="29" text-anchor="end">0.8</text>
<text x="73.90" y="74.05" font-size="29" text-anchor="end">1.0</text>
<text x="97.80" y="80.00" font-size="28">(a)</text>
<text x="398.90" y="1147.50" font-size="31" font-style="italic" text-anchor="middle">R</text>
</g>
<g>
<polyline fill="none" stroke="#44aca5" stroke-width="1.00" stroke-linejoin="round" points="807.50,494.55 822.50,494.55 837.50,494.55 852.50,494.55 867.50,494.55 882.50,494.55 897.50,494.55 912.50,494.55 927.50,494.55 942.50,494.55 957.50,494.55 972.50,494.55 987.50,494.55 1002.50,494.55 1017.50,494.55 1032.50,494.55 1047.50,494.55 1062.50,380.41 1077.50,65.45 1092.50,65.45 1107.50,65.45 1122.50,65.45 1137.50,65.45 1152.50,65.45 1167.50,65.45 1182.50,65.45 1197.50,65.45 1212.50,65.45 1227.50,65.45 1242.50,65.45 1257.50,65.45 1272.50,65.45 1287.50,65.45 1302.50,65.45 1317.50,65.45 1332.50,65.45 1347.50,65.45 1362.50,65.45 1377.50,65.45 1392.50,65.45 1407.50,65.45"/>
<path fill="none" stroke="#44aca5" stroke-width="2.20" stroke-linejoin="round" d="M807.50,489.65L803.26,492.10L803.26,497.00L807.50,499.45L811.74,497.00L811.74,492.10ZM822.50,489.65L818.26,492.10L818.26,497.00L822.50,499.45L826.74,497.00L826.74,492.10ZM837.50,489.65L833.26,492.10L833.26,497.00L837.50,499.45L841.74,497.00L841.74,492.10ZM852.50,489.65L848.26,492.10L848.26,497.00L852.50,499.45L856.74,497.00L856.74,492.10ZM867.50,489.65L863.26,492.10L863.26,497.00L867.50,499.45L871.74,497.00L871.74,492.10ZM882.50,489.65L878.26,492.10L878.26,497.00L882.50,499.45L886.74,497.00L886.74,492.10ZM897.50,489.65L893.26,492.10L893.26,497.00L897.50,499.45L901.74,497.00L901.74,492.10ZM912.50,489.65L908.26,492.10L908.26,497.00L912.50,499.45L916.74,497.00L916.74,492.10ZM927.50,489.65L923.26,492.10L923.26,497.00L927.50,499.45L931.74,497.00L931.74,492.10ZM942.50,489.65L938.26,492.10L938.26,497.00L942.50,499.45L946.74,497.00L946.74,492.10ZM957.50,489.65L953.26,492.10L953.26,497.00L957.50,499.45L961.74,497.00L961.74,492.10ZM972.50,489.65L968.26,492.10L968.26,497.00L972.50,499.45L976.74,497.00L976.74,492.10ZM987.50,489.65L983.26,492.10L983.26,497.00L987.50,499.45L991.74,497.00L991.74,492.10ZM1002.50,489.65L998.26,492.10L998.26,497.00L1002.50,499.45L1006.74,497.00L1006.74,492.10ZM1017.50,489.65L1013.26,492.10L1013.26,497.00L1017.50,499.45L1021.74,497.00L1021.74,492.10ZM1032.50,489.65L1028.26,492.10L1028.26,497.00L1032.50,499.45L1036.74,497.00L1036.74,492.10ZM1047.50,489.65L1043.26,492.10L1043.26,497.00L1047.50,499.45L1051.74,497.00L1051.74,492.10ZM1062.50,375.51L1058.26,377.96L1058.26,382.86L1062.50,385.31L1066.74,382.86L1066.74,377.96ZM1077.50,60.55L1073.26,63.00L1073.26,67.90L1077.50,70.35L1081.74,67.90L1081.74,63.00ZM1092.50,60.55L1088.26,63.00L1088.26,67.90L1092.50,70.35L1096.74,67.90L1096.74,63.00ZM1107.50,60.55L1103.26,63.00L1103.26,67.90L1107.50,70.35L1111.74,67.90L1111.74,63.00ZM1122.50,60.55L1118.26,63.00L1118.26,67.90L1122.50,70.35L1126.74,67.90L1126.74,63.00ZM1137.50,60.55L1133.26,63.00L1133.26,67.90L1137.50,70.35L1141.74,67.90L1141.74,63.00ZM1152.50,60.55L1148.26,63.00L1148.26,67.90L1152.50,70.35L1156.74,67.90L1156.74,63.00ZM1167.50,60.55L1163.26,63.00L1163.26,67.90L1167.50,70.35L1171.74,67.90L1171.74,63.00ZM1182.50,60.55L1178.26,63.00L1178.26,67.90L1182.50,70.35L1186.74,67.90L1186.74,63.00ZM1197.50,60.55L1193.26,63.00L1193.26,67.90L1197.50,70.35L1201.74,67.90L1201.74,63.00ZM1212.50,60.55L1208.26,63.00L1208.26,67.90L1212.50,70.35L1216.74,67.90L1216.74,63.00ZM1227.50,60.55L1223.26,63.00L1223.26,67.90L1227.50,70.35L1231.74,67.90L1231.74,63.00ZM1242.50,60.55L1238.26,63.00L1238.26,67.90L1242.50,70.35L1246.74,67.90L1246.74,63.00ZM1257.50,60.55L1253.26,63.00L1253.26,67.90L1257.50,70.35L1261.74,67.90L1261.74,63.00ZM1272.50,60.55L1268.26,63.00L1268.26,67.90L1272.50,70.35L1276.74,67.90L1276.74,63.00ZM1287.50,60.55L1283.26,63.00L1283.26,67.90L1287.50,70.35L1291.74,67.90L1291.74,63.00ZM1302.50,60.55L1298.26,63.00L1298.26,67.90L1302.50,70.35L1306.74,67.90L1306.74,63.00ZM1317.50,60.55L1313.26,63.00L1313.26,67.90L1317.50,70.35L1321.74,67.90L1321.74,63.00ZM1332.50,60.55L1328.26,63.00L1328.26,67.90L1332.50,70.35L1336.74,67.90L1336.74,63.00ZM1347.50,60.55L1343.26,63.00L1343.26,67.90L1347.50,70.35L1351.74,67.90L1351.74,63.00ZM1362.50,60.55L1358.26,63.00L1358.26,67.90L1362.50,70.35L1366.74,67.90L1366.74,63.00ZM1377.50,60.55L1373.26,63.00L1373.26,67.90L1377.50,70.35L1381.74,67.90L1381.74,63.00ZM1392.50,60.55L1388.26,63.00L1388.26,67.90L1392.50,70.35L1396.74,67.90L1396.74,63.00ZM1407.50,60.55L1403.26,63.00L1403.26,67.90L1407.50,70.35L1411.74,67.90L1411.74,63.00Z"/>
<polyline fill="none" stroke="#1f60a2" stroke-width="1.00" stroke-linejoin="round" points="807.50,453.79 822.50,446.06 837.50,453.79 852.50,453.79 867.50,451.21 882.50,449.92 897.50,454.21 912.50,452.50 927.50,446.49 942.50,449.92 957.50,452.07 972.50,444.77 987.50,443.06 1002.50,412.16 1017.50,347.80 1032.50,268.41 1047.50,114.37 1062.50,110.51 1077.50,109.65 1092.50,104.50 1107.50,109.65 1122.50,105.79 1137.50,107.93 1152.50,105.79 1167.50,105.79 1182.50,107.93 1197.50,109.65 1212.50,109.65 1227.50,109.65 1242.50,103.64 1257.50,110.93 1272.50,109.65 1287.50,104.93 1302.50,105.79 1317.50,104.93 1332.50,112.65 1347.50,109.22 1362.50,110.93 1377.50,104.07 1392.50,111.79 1407.50,106.21"/>
<path fill="none" stroke="#1f60a2" stroke-width="2.20" stroke-linejoin="round" d="M807.50,448.89L803.26,451.34L803.26,456.24L807.50,458.69L811.74,456.24L811.74,451.34ZM822.50,441.16L818.26,443.61L818.26,448.51L822.50,450.96L826.74,448.51L826.74,443.61ZM837.50,448.89L833.26,451.34L833.26,456.24L837.50,458.69L841.74,456.24L841.74,451.34ZM852.50,448.89L848.26,451.34L848.26,456.24L852.50,458.69L856.74,456.24L856.74,451.34ZM867.50,446.31L863.26,448.76L863.26,453.66L867.50,456.11L871.74,453.66L871.74,448.76ZM882.50,445.02L878.26,447.47L878.26,452.37L882.50,454.82L886.74,452.37L886.74,447.47ZM897.50,449.31L893.26,451.76L893.26,456.66L897.50,459.11L901.74,456.66L901.74,451.76ZM912.50,447.60L908.26,450.05L908.26,454.95L912.50,457.40L916.74,454.95L916.74,450.05ZM927.50,441.59L923.26,444.04L923.26,448.94L927.50,451.39L931.74,448.94L931.74,444.04ZM942.50,445.02L938.26,447.47L938.26,452.37L942.50,454.82L946.74,452.37L946.74,447.47ZM957.50,447.17L953.26,449.62L953.26,454.52L957.50,456.97L961.74,454.52L961.74,449.62ZM972.50,439.87L968.26,442.32L968.26,447.22L972.50,449.67L976.74,447.22L976.74,442.32ZM987.50,438.16L983.26,440.61L983.26,445.51L987.50,447.96L991.74,445.51L991.74,440.61ZM1002.50,407.26L998.26,409.71L998.26,414.61L1002.50,417.06L1006.74,414.61L1006.74,409.71ZM1017.50,342.90L1013.26,345.35L1013.26,350.25L1017.50,352.70L1021.74,350.25L1021.74,345.35ZM1032.50,263.51L1028.26,265.96L1028.26,270.86L1032.50,273.31L1036.74,270.86L1036.74,265.96ZM1047.50,109.47L1043.26,111.92L1043.26,116.82L1047.50,119.27L1051.74,116.82L1051.74,111.92ZM1062.50,105.61L1058.26,108.06L1058.26,112.96L1062.50,115.41L1066.74,112.96L1066.74,108.06ZM1077.50,104.75L1073.26,107.20L1073.26,112.10L1077.50,114.55L1081.74,112.10L1081.74,107.20ZM1092.50,99.60L1088.26,102.05L1088.26,106.95L1092.50,109.40L1096.74,106.95L1096.74,102.05ZM1107.50,104.75L1103.26,107.20L1103.26,112.10L1107.50,114.55L1111.74,112.10L1111.74,107.20ZM1122.50,100.89L1118.26,103.34L1118.26,108.24L1122.50,110.69L1126.74,108.24L1126.74,103.34ZM1137.50,103.03L1133.26,105.48L1133.26,110.38L1137.50,112.83L1141.74,110.38L1141.74,105.48ZM1152.50,100.89L1148.26,103.34L1148.26,108.24L1152.50,110.69L1156.74,108.24L1156.74,103.34ZM1167.50,100.89L1163.26,103.34L1163.26,108.24L1167.50,110.69L1171.74,108.24L1171.74,103.34ZM1182.50,103.03L1178.26,105.48L1178.26,110.38L1182.50,112.83L1186.74,110.38L1186.74,105.48ZM1197.50,104.75L1193.26,107.20L1193.26,112.10L1197.50,114.55L1201.74,112.10L1201.74,107.20ZM1212.50,104.75L1208.26,107.20L1208.26,112.10L1212.50,114.55L1216.74,112.10L1216.74,107.20ZM1227.50,104.75L1223.26,107.20L1223.26,112.10L1227.50,114.55L1231.74,112.10L1231.74,107.20ZM1242.50,98.74L1238.26,101.19L1238.26,106.09L1242.50,108.54L1246.74,106.09L1246.74,101.19ZM1257.50,106.03L1253.26,108.48L1253.26,113.38L1257.50,115.83L1261.74,113.38L1261.74,108.48ZM1272.50,104.75L1268.26,107.20L1268.26,112.10L1272.50,114.55L1276.74,112.10L1276.74,107.20ZM1287.50,100.03L1283.26,102.48L1283.26,107.38L1287.50,109.83L1291.74,107.38L1291.74,102.48ZM1302.50,100.89L1298.26,103.34L1298.26,108.24L1302.50,110.69L1306.74,108.24L1306.74,103.34ZM1317.50,100.03L1313.26,102.48L1313.26,107.38L1317.50,109.83L1321.74,107.38L1321.74,102.48ZM1332.50,107.75L1328.26,110.20L1328.26,115.10L1332.50,117.55L1336.74,115.10L1336.74,110.20ZM1347.50,104.32L1343.26,106.77L1343.26,111.67L1347.50,114.12L1351.74,111.67L1351.74,106.77ZM1362.50,106.03L1358.26,108.48L1358.26,113.38L1362.50,115.83L1366.74,113.38L1366.74,108.48ZM1377.50,99.17L1373.26,101.62L1373.26,106.52L1377.50,108.97L1381.74,106.52L1381.74,101.62ZM1392.50,106.89L1388.26,109.34L1388.26,114.24L1392.50,116.69L1396.74,114.24L1396.74,109.34ZM1407.50,101.31L1403.26,103.76L1403.26,108.66L1407.50,111.11L1411.74,108.66L1411.74,103.76Z"/>
<polyline fill="none" stroke="#6b9cac" stroke-width="1.00" stroke-linejoin="round" points="807.50,404.01 822.50,407.44 837.50,415.60 852.50,406.58 867.50,406.58 882.50,415.60 897.50,411.73 912.50,407.01 927.50,406.58 942.50,396.29 957.50,407.01 972.50,376.55 987.50,339.64 1002.50,306.18 1017.50,221.64 1032.50,156.42 1047.50,149.55 1062.50,156.42 1077.50,149.12 1092.50,152.56 1107.50,151.70 1122.50,150.41 1137.50,146.12 1152.50,147.84 1167.50,149.98 1182.50,147.84 1197.50,150.41 1212.50,150.41 1227.50,150.41 1242.50,157.28 1257.50,155.13 1272.50,151.27 1287.50,158.14 1302.50,149.98 1317.50,149.98 1332.50,153.84 1347.50,149.55 1362.50,153.42 1377.50,149.12 1392.50,149.55 1407.50,149.12"/>
<path fill="none" stroke="#6b9cac" stroke-width="2.20" stroke-linejoin="round" d="M807.50,399.11L803.26,401.56L803.26,406.46L807.50,408.91L811.74,406.46L811.74,401.56ZM822.50,402.54L818.26,404.99L818.26,409.89L822.50,412.34L826.74,409.89L826.74,404.99ZM837.50,410.70L833.26,413.15L833.26,418.05L837.50,420.50L841.74,418.05L841.74,413.15ZM852.50,401.68L848.26,404.13L848.26,409.03L852.50,411.48L856.74,409.03L856.74,404.13ZM867.50,401.68L863.26,404.13L863.26,409.03L867.50,411.48L871.74,409.03L871.74,404.13ZM882.50,410.70L878.26,413.15L878.26,418.05L882.50,420.50L886.74,418.05L886.74,413.15ZM897.50,406.83L893.26,409.28L893.26,414.18L897.50,416.63L901.74,414.18L901.74,409.28ZM912.50,402.11L908.26,404.56L908.26,409.46L912.50,411.91L916.74,409.46L916.74,404.56ZM927.50,401.68L923.26,404.13L923.26,409.03L927.50,411.48L931.74,409.03L931.74,404.13ZM942.50,391.39L938.26,393.84L938.26,398.74L942.50,401.19L946.74,398.74L946.74,393.84ZM957.50,402.11L953.26,404.56L953.26,409.46L957.50,411.91L961.74,409.46L961.74,404.56ZM972.50,371.65L968.26,374.10L968.26,379.00L972.50,381.45L976.74,379.00L976.74,374.10ZM987.50,334.74L983.26,337.19L983.26,342.09L987.50,344.54L991.74,342.09L991.74,337.19ZM1002.50,301.28L998.26,303.73L998.26,308.63L1002.50,311.08L1006.74,308.63L1006.74,303.73ZM1017.50,216.74L1013.26,219.19L1013.26,224.09L1017.50,226.54L1021.74,224.09L1021.74,219.19ZM1032.50,151.52L1028.26,153.97L1028.26,158.87L1032.50,161.32L1036.74,158.87L1036.74,153.97ZM1047.50,144.65L1043.26,147.10L1043.26,152.00L1047.50,154.45L1051.74,152.00L1051.74,147.10ZM1062.50,151.52L1058.26,153.97L1058.26,158.87L1062.50,161.32L1066.74,158.87L1066.74,153.97ZM1077.50,144.22L1073.26,146.67L1073.26,151.57L1077.50,154.02L1081.74,151.57L1081.74,146.67ZM1092.50,147.66L1088.26,150.11L1088.26,155.01L1092.50,157.46L1096.74,155.01L1096.74,150.11ZM1107.50,146.80L1103.26,149.25L1103.26,154.15L1107.50,156.60L1111.74,154.15L1111.74,149.25ZM1122.50,145.51L1118.26,147.96L1118.26,152.86L1122.50,155.31L1126.74,152.86L1126.74,147.96ZM1137.50,141.22L1133.26,143.67L1133.26,148.57L1137.50,151.02L1141.74,148.57L1141.74,143.67ZM1152.50,142.94L1148.26,145.39L1148.26,150.29L1152.50,152.74L1156.74,150.29L1156.74,145.39ZM1167.50,145.08L1163.26,147.53L1163.26,152.43L1167.50,154.88L1171.74,152.43L1171.74,147.53ZM1182.50,142.94L1178.26,145.39L1178.26,150.29L1182.50,152.74L1186.74,150.29L1186.74,145.39ZM1197.50,145.51L1193.26,147.96L1193.26,152.86L1197.50,155.31L1201.74,152.86L1201.74,147.96ZM1212.50,145.51L1208.26,147.96L1208.26,152.86L1212.50,155.31L1216.74,152.86L1216.74,147.96ZM1227.50,145.51L1223.26,147.96L1223.26,152.86L1227.50,155.31L1231.74,152.86L1231.74,147.96ZM1242.50,152.38L1238.26,154.83L1238.26,159.73L1242.50,162.18L1246.74,159.73L1246.74,154.83ZM1257.50,150.23L1253.26,152.68L1253.26,157.58L1257.50,160.03L1261.74,157.58L1261.74,152.68ZM1272.50,146.37L1268.26,148.82L1268.26,153.72L1272.50,156.17L1276.74,153.72L1276.74,148.82ZM1287.50,153.24L1283.26,155.69L1283.26,160.59L1287.50,163.04L1291.74,160.59L1291.74,155.69ZM1302.50,145.08L1298.26,147.53L1298.26,152.43L1302.50,154.88L1306.74,152.43L1306.74,147.53ZM1317.50,145.08L1313.26,147.53L1313.26,152.43L1317.50,154.88L1321.74,152.43L1321.74,147.53ZM1332.50,148.94L1328.26,151.39L1328.26,156.29L1332.50,158.74L1336.74,156.29L1336.74,151.39ZM1347.50,144.65L1343.26,147.10L1343.26,152.00L1347.50,154.45L1351.74,152.00L1351.74,147.10ZM1362.50,148.52L1358.26,150.97L1358.26,155.87L1362.50,158.32L1366.74,155.87L1366.74,150.97ZM1377.50,144.22L1373.26,146.67L1373.26,151.57L1377.50,154.02L1381.74,151.57L1381.74,146.67ZM1392.50,144.65L1388.26,147.10L1388.26,152.00L1392.50,154.45L1396.74,152.00L1396.74,147.10ZM1407.50,144.22L1403.26,146.67L1403.26,151.57L1407.50,154.02L1411.74,151.57L1411.74,146.67Z"/>
<polyline fill="none" stroke="#d6dcb4" stroke-width="1.00" stroke-linejoin="round" points="807.50,370.97 822.50,360.67 837.50,365.39 852.50,365.82 867.50,364.96 882.50,369.68 897.50,363.25 912.50,362.39 927.50,371.40 942.50,367.97 957.50,368.39 972.50,360.67 987.50,250.39 1002.50,195.47 1017.50,195.90 1032.50,192.03 1047.50,195.90 1062.50,193.32 1077.50,198.47 1092.50,191.61 1107.50,197.18 1122.50,192.03 1137.50,193.32 1152.50,196.33 1167.50,190.32 1182.50,191.61 1197.50,194.18 1212.50,198.47 1227.50,191.18 1242.50,195.04 1257.50,198.47 1272.50,196.75 1287.50,192.46 1302.50,195.47 1317.50,187.31 1332.50,197.61 1347.50,192.03 1362.50,194.18 1377.50,189.89 1392.50,191.18 1407.50,198.90"/>
<path fill="none" stroke="#d6dcb4" stroke-width="2.20" stroke-linejoin="round" d="M807.50,366.07L803.26,368.52L803.26,373.42L807.50,375.87L811.74,373.42L811.74,368.52ZM822.50,355.77L818.26,358.22L818.26,363.12L822.50,365.57L826.74,363.12L826.74,358.22ZM837.50,360.49L833.26,362.94L833.26,367.84L837.50,370.29L841.74,367.84L841.74,362.94ZM852.50,360.92L848.26,363.37L848.26,368.27L852.50,370.72L856.74,368.27L856.74,363.37ZM867.50,360.06L863.26,362.51L863.26,367.41L867.50,369.86L871.74,367.41L871.74,362.51ZM882.50,364.78L878.26,367.23L878.26,372.13L882.50,374.58L886.74,372.13L886.74,367.23ZM897.50,358.35L893.26,360.80L893.26,365.70L897.50,368.15L901.74,365.70L901.74,360.80ZM912.50,357.49L908.26,359.94L908.26,364.84L912.50,367.29L916.74,364.84L916.74,359.94ZM927.50,366.50L923.26,368.95L923.26,373.85L927.50,376.30L931.74,373.85L931.74,368.95ZM942.50,363.07L938.26,365.52L938.26,370.42L942.50,372.87L946.74,370.42L946.74,365.52ZM957.50,363.49L953.26,365.94L953.26,370.84L957.50,373.29L961.74,370.84L961.74,365.94ZM972.50,355.77L968.26,358.22L968.26,363.12L972.50,365.57L976.74,363.12L976.74,358.22ZM987.50,245.49L983.26,247.94L983.26,252.84L987.50,255.29L991.74,252.84L991.74,247.94ZM1002.50,190.57L998.26,193.02L998.26,197.92L1002.50,200.37L1006.74,197.92L1006.74,193.02ZM1017.50,191.00L1013.26,193.45L1013.26,198.35L1017.50,200.80L1021.74,198.35L1021.74,193.45ZM1032.50,187.13L1028.26,189.58L1028.26,194.48L1032.50,196.93L1036.74,194.48L1036.74,189.58ZM1047.50,191.00L1043.26,193.45L1043.26,198.35L1047.50,200.80L1051.74,198.35L1051.74,193.45ZM1062.50,188.42L1058.26,190.87L1058.26,195.77L1062.50,198.22L1066.74,195.77L1066.74,190.87ZM1077.50,193.57L1073.26,196.02L1073.26,200.92L1077.50,203.37L1081.74,200.92L1081.74,196.02ZM1092.50,186.71L1088.26,189.16L1088.26,194.06L1092.50,196.51L1096.74,194.06L1096.74,189.16ZM1107.50,192.28L1103.26,194.73L1103.26,199.63L1107.50,202.08L1111.74,199.63L1111.74,194.73ZM1122.50,187.13L1118.26,189.58L1118.26,194.48L1122.50,196.93L1126.74,194.48L1126.74,189.58ZM1137.50,188.42L1133.26,190.87L1133.26,195.77L1137.50,198.22L1141.74,195.77L1141.74,190.87ZM1152.50,191.43L1148.26,193.88L1148.26,198.78L1152.50,201.23L1156.74,198.78L1156.74,193.88ZM1167.50,185.42L1163.26,187.87L1163.26,192.77L1167.50,195.22L1171.74,192.77L1171.74,187.87ZM1182.50,186.71L1178.26,189.16L1178.26,194.06L1182.50,196.51L1186.74,194.06L1186.74,189.16ZM1197.50,189.28L1193.26,191.73L1193.26,196.63L1197.50,199.08L1201.74,196.63L1201.74,191.73ZM1212.50,193.57L1208.26,196.02L1208.26,200.92L1212.50,203.37L1216.74,200.92L1216.74,196.02ZM1227.50,186.28L1223.26,188.73L1223.26,193.63L1227.50,196.08L1231.74,193.63L1231.74,188.73ZM1242.50,190.14L1238.26,192.59L1238.26,197.49L1242.50,199.94L1246.74,197.49L1246.74,192.59ZM1257.50,193.57L1253.26,196.02L1253.26,200.92L1257.50,203.37L1261.74,200.92L1261.74,196.02ZM1272.50,191.85L1268.26,194.30L1268.26,199.20L1272.50,201.65L1276.74,199.20L1276.74,194.30ZM1287.50,187.56L1283.26,190.01L1283.26,194.91L1287.50,197.36L1291.74,194.91L1291.74,190.01ZM1302.50,190.57L1298.26,193.02L1298.26,197.92L1302.50,200.37L1306.74,197.92L1306.74,193.02ZM1317.50,182.41L1313.26,184.86L1313.26,189.76L1317.50,192.21L1321.74,189.76L1321.74,184.86ZM1332.50,192.71L1328.26,195.16L1328.26,200.06L1332.50,202.51L1336.74,200.06L1336.74,195.16ZM1347.50,187.13L1343.26,189.58L1343.26,194.48L1347.50,196.93L1351.74,194.48L1351.74,189.58ZM1362.50,189.28L1358.26,191.73L1358.26,196.63L1362.50,199.08L1366.74,196.63L1366.74,191.73ZM1377.50,184.99L1373.26,187.44L1373.26,192.34L1377.50,194.79L1381.74,192.34L1381.74,187.44ZM1392.50,186.28L1388.26,188.73L1388.26,193.63L1392.50,196.08L1396.74,193.63L1396.74,188.73ZM1407.50,194.00L1403.26,196.45L1403.26,201.35L1407.50,203.80L1411.74,201.35L1411.74,196.45Z"/>
<polyline fill="none" stroke="#ec9c66" stroke-width="1.00" stroke-linejoin="round" points="807.50,323.77 822.50,326.77 837.50,323.77 852.50,328.92 867.50,325.48 882.50,318.19 897.50,326.34 912.50,307.46 927.50,294.16 942.50,273.13 957.50,259.40 972.50,237.95 987.50,237.95 1002.50,236.23 1017.50,239.24 1032.50,240.95 1047.50,238.81 1062.50,244.81 1077.50,236.23 1092.50,240.09 1107.50,238.81 1122.50,239.24 1137.50,237.09 1152.50,239.24 1167.50,231.51 1182.50,236.23 1197.50,242.24 1212.50,234.94 1227.50,234.94 1242.50,240.09 1257.50,237.09 1272.50,233.23 1287.50,239.24 1302.50,231.94 1317.50,238.81 1332.50,237.52 1347.50,238.81 1362.50,235.80 1377.50,234.09 1392.50,233.23 1407.50,233.66"/>
<path fill="none" stroke="#ec9c66" stroke-width="2.20" stroke-linejoin="round" d="M807.50,318.87L803.26,321.32L803.26,326.22L807.50,328.67L811.74,326.22L811.74,321.32ZM822.50,321.87L818.26,324.32L818.26,329.22L822.50,331.67L826.74,329.22L826.74,324.32ZM837.50,318.87L833.26,321.32L833.26,326.22L837.50,328.67L841.74,326.22L841.74,321.32ZM852.50,324.02L848.26,326.47L848.26,331.37L852.50,333.82L856.74,331.37L856.74,326.47ZM867.50,320.58L863.26,323.03L863.26,327.93L867.50,330.38L871.74,327.93L871.74,323.03ZM882.50,313.29L878.26,315.74L878.26,320.64L882.50,323.09L886.74,320.64L886.74,315.74ZM897.50,321.44L893.26,323.89L893.26,328.79L897.50,331.24L901.74,328.79L901.74,323.89ZM912.50,302.56L908.26,305.01L908.26,309.91L912.50,312.36L916.74,309.91L916.74,305.01ZM927.50,289.26L923.26,291.71L923.26,296.61L927.50,299.06L931.74,296.61L931.74,291.71ZM942.50,268.23L938.26,270.68L938.26,275.58L942.50,278.03L946.74,275.58L946.74,270.68ZM957.50,254.50L953.26,256.95L953.26,261.85L957.50,264.30L961.74,261.85L961.74,256.95ZM972.50,233.05L968.26,235.50L968.26,240.40L972.50,242.85L976.74,240.40L976.74,235.50ZM987.50,233.05L983.26,235.50L983.26,240.40L987.50,242.85L991.74,240.40L991.74,235.50ZM1002.50,231.33L998.26,233.78L998.26,238.68L1002.50,241.13L1006.74,238.68L1006.74,233.78ZM1017.50,234.34L1013.26,236.79L1013.26,241.69L1017.50,244.14L1021.74,241.69L1021.74,236.79ZM1032.50,236.05L1028.26,238.50L1028.26,243.40L1032.50,245.85L1036.74,243.40L1036.74,238.50ZM1047.50,233.91L1043.26,236.36L1043.26,241.26L1047.50,243.71L1051.74,241.26L1051.74,236.36ZM1062.50,239.91L1058.26,242.36L1058.26,247.26L1062.50,249.71L1066.74,247.26L1066.74,242.36ZM1077.50,231.33L1073.26,233.78L1073.26,238.68L1077.50,241.13L1081.74,238.68L1081.74,233.78ZM1092.50,235.19L1088.26,237.64L1088.26,242.54L1092.50,244.99L1096.74,242.54L1096.74,237.64ZM1107.50,233.91L1103.26,236.36L1103.26,241.26L1107.50,243.71L1111.74,241.26L1111.74,236.36ZM1122.50,234.34L1118.26,236.79L1118.26,241.69L1122.50,244.14L1126.74,241.69L1126.74,236.79ZM1137.50,232.19L1133.26,234.64L1133.26,239.54L1137.50,241.99L1141.74,239.54L1141.74,234.64ZM1152.50,234.34L1148.26,236.79L1148.26,241.69L1152.50,244.14L1156.74,241.69L1156.74,236.79ZM1167.50,226.61L1163.26,229.06L1163.26,233.96L1167.50,236.41L1171.74,233.96L1171.74,229.06ZM1182.50,231.33L1178.26,233.78L1178.26,238.68L1182.50,241.13L1186.74,238.68L1186.74,233.78ZM1197.50,237.34L1193.26,239.79L1193.26,244.69L1197.50,247.14L1201.74,244.69L1201.74,239.79ZM1212.50,230.04L1208.26,232.49L1208.26,237.39L1212.50,239.84L1216.74,237.39L1216.74,232.49ZM1227.50,230.04L1223.26,232.49L1223.26,237.39L1227.50,239.84L1231.74,237.39L1231.74,232.49ZM1242.50,235.19L1238.26,237.64L1238.26,242.54L1242.50,244.99L1246.74,242.54L1246.74,237.64ZM1257.50,232.19L1253.26,234.64L1253.26,239.54L1257.50,241.99L1261.74,239.54L1261.74,234.64ZM1272.50,228.33L1268.26,230.78L1268.26,235.68L1272.50,238.13L1276.74,235.68L1276.74,230.78ZM1287.50,234.34L1283.26,236.79L1283.26,241.69L1287.50,244.14L1291.74,241.69L1291.74,236.79ZM1302.50,227.04L1298.26,229.49L1298.26,234.39L1302.50,236.84L1306.74,234.39L1306.74,229.49ZM1317.50,233.91L1313.26,236.36L1313.26,241.26L1317.50,243.71L1321.74,241.26L1321.74,236.36ZM1332.50,232.62L1328.26,235.07L1328.26,239.97L1332.50,242.42L1336.74,239.97L1336.74,235.07ZM1347.50,233.91L1343.26,236.36L1343.26,241.26L1347.50,243.71L1351.74,241.26L1351.74,236.36ZM1362.50,230.90L1358.26,233.35L1358.26,238.25L1362.50,240.70L1366.74,238.25L1366.74,233.35ZM1377.50,229.19L1373.26,231.64L1373.26,236.54L1377.50,238.99L1381.74,236.54L1381.74,231.64ZM1392.50,228.33L1388.26,230.78L1388.26,235.68L1392.50,238.13L1396.74,235.68L1396.74,230.78ZM1407.50,228.76L1403.26,231.21L1403.26,236.11L1407.50,238.56L1411.74,236.11L1411.74,231.21Z"/>
<polyline fill="none" stroke="#cf5648" stroke-width="1.00" stroke-linejoin="round" points="807.50,280.43 822.50,282.15 837.50,276.57 852.50,277.43 867.50,278.28 882.50,280.43 897.50,281.29 912.50,280.43 927.50,281.29 942.50,281.29 957.50,283.43 972.50,279.57 987.50,279.57 1002.50,276.14 1017.50,277.43 1032.50,277.85 1047.50,281.72 1062.50,277.85 1077.50,281.29 1092.50,281.29 1107.50,280.43 1122.50,279.57 1137.50,284.29 1152.50,283.43 1167.50,282.57 1182.50,281.29 1197.50,279.14 1212.50,279.14 1227.50,275.28 1242.50,279.57 1257.50,278.71 1272.50,277.43 1287.50,277.43 1302.50,278.71 1317.50,280.43 1332.50,277.43 1347.50,279.14 1362.50,277.43 1377.50,276.14 1392.50,278.71 1407.50,277.43"/>
<path fill="none" stroke="#cf5648" stroke-width="2.20" stroke-linejoin="round" d="M807.50,275.53L803.26,277.98L803.26,282.88L807.50,285.33L811.74,282.88L811.74,277.98ZM822.50,277.25L818.26,279.70L818.26,284.60L822.50,287.05L826.74,284.60L826.74,279.70ZM837.50,271.67L833.26,274.12L833.26,279.02L837.50,281.47L841.74,279.02L841.74,274.12ZM852.50,272.53L848.26,274.98L848.26,279.88L852.50,282.33L856.74,279.88L856.74,274.98ZM867.50,273.38L863.26,275.83L863.26,280.73L867.50,283.18L871.74,280.73L871.74,275.83ZM882.50,275.53L878.26,277.98L878.26,282.88L882.50,285.33L886.74,282.88L886.74,277.98ZM897.50,276.39L893.26,278.84L893.26,283.74L897.50,286.19L901.74,283.74L901.74,278.84ZM912.50,275.53L908.26,277.98L908.26,282.88L912.50,285.33L916.74,282.88L916.74,277.98ZM927.50,276.39L923.26,278.84L923.26,283.74L927.50,286.19L931.74,283.74L931.74,278.84ZM942.50,276.39L938.26,278.84L938.26,283.74L942.50,286.19L946.74,283.74L946.74,278.84ZM957.50,278.53L953.26,280.98L953.26,285.88L957.50,288.33L961.74,285.88L961.74,280.98ZM972.50,274.67L968.26,277.12L968.26,282.02L972.50,284.47L976.74,282.02L976.74,277.12ZM987.50,274.67L983.26,277.12L983.26,282.02L987.50,284.47L991.74,282.02L991.74,277.12ZM1002.50,271.24L998.26,273.69L998.26,278.59L1002.50,281.04L1006.74,278.59L1006.74,273.69ZM1017.50,272.53L1013.26,274.98L1013.26,279.88L1017.50,282.33L1021.74,279.88L1021.74,274.98ZM1032.50,272.95L1028.26,275.40L1028.26,280.30L1032.50,282.75L1036.74,280.30L1036.74,275.40ZM1047.50,276.82L1043.26,279.27L1043.26,284.17L1047.50,286.62L1051.74,284.17L1051.74,279.27ZM1062.50,272.95L1058.26,275.40L1058.26,280.30L1062.50,282.75L1066.74,280.30L1066.74,275.40ZM1077.50,276.39L1073.26,278.84L1073.26,283.74L1077.50,286.19L1081.74,283.74L1081.74,278.84ZM1092.50,276.39L1088.26,278.84L1088.26,283.74L1092.50,286.19L1096.74,283.74L1096.74,278.84ZM1107.50,275.53L1103.26,277.98L1103.26,282.88L1107.50,285.33L1111.74,282.88L1111.74,277.98ZM1122.50,274.67L1118.26,277.12L1118.26,282.02L1122.50,284.47L1126.74,282.02L1126.74,277.12ZM1137.50,279.39L1133.26,281.84L1133.26,286.74L1137.50,289.19L1141.74,286.74L1141.74,281.84ZM1152.50,278.53L1148.26,280.98L1148.26,285.88L1152.50,288.33L1156.74,285.88L1156.74,280.98ZM1167.50,277.67L1163.26,280.12L1163.26,285.02L1167.50,287.47L1171.74,285.02L1171.74,280.12ZM1182.50,276.39L1178.26,278.84L1178.26,283.74L1182.50,286.19L1186.74,283.74L1186.74,278.84ZM1197.50,274.24L1193.26,276.69L1193.26,281.59L1197.50,284.04L1201.74,281.59L1201.74,276.69ZM1212.50,274.24L1208.26,276.69L1208.26,281.59L1212.50,284.04L1216.74,281.59L1216.74,276.69ZM1227.50,270.38L1223.26,272.83L1223.26,277.73L1227.50,280.18L1231.74,277.73L1231.74,272.83ZM1242.50,274.67L1238.26,277.12L1238.26,282.02L1242.50,284.47L1246.74,282.02L1246.74,277.12ZM1257.50,273.81L1253.26,276.26L1253.26,281.16L1257.50,283.61L1261.74,281.16L1261.74,276.26ZM1272.50,272.53L1268.26,274.98L1268.26,279.88L1272.50,282.33L1276.74,279.88L1276.74,274.98ZM1287.50,272.53L1283.26,274.98L1283.26,279.88L1287.50,282.33L1291.74,279.88L1291.74,274.98ZM1302.50,273.81L1298.26,276.26L1298.26,281.16L1302.50,283.61L1306.74,281.16L1306.74,276.26ZM1317.50,275.53L1313.26,277.98L1313.26,282.88L1317.50,285.33L1321.74,282.88L1321.74,277.98ZM1332.50,272.53L1328.26,274.98L1328.26,279.88L1332.50,282.33L1336.74,279.88L1336.74,274.98ZM1347.50,274.24L1343.26,276.69L1343.26,281.59L1347.50,284.04L1351.74,281.59L1351.74,276.69ZM1362.50,272.53L1358.26,274.98L1358.26,279.88L1362.50,282.33L1366.74,279.88L1366.74,274.98ZM1377.50,271.24L1373.26,273.69L1373.26,278.59L1377.50,281.04L1381.74,278.59L1381.74,273.69ZM1392.50,273.81L1388.26,276.26L1388.26,281.16L1392.50,283.61L1396.74,281.16L1396.74,276.26ZM1407.50,272.53L1403.26,274.98L1403.26,279.88L1407.50,282.33L1411.74,279.88L1411.74,274.98Z"/>
<path fill="none" stroke="#000" stroke-width="1.8" d="M807.50,516.00v-9M807.50,43.99v9M957.50,516.00v-9M957.50,43.99v9M1107.50,516.00v-9M1107.50,43.99v9M1257.50,516.00v-9M1257.50,43.99v9M1407.50,516.00v-9M1407.50,43.99v9M882.50,516.00v-4.5M882.50,43.99v4.5M1032.50,516.00v-4.5M1032.50,43.99v4.5M1182.50,516.00v-4.5M1182.50,43.99v4.5M1332.50,516.00v-4.5M1332.50,43.99v4.5M792.50,494.55h9M1422.50,494.55h-9M792.50,408.73h9M1422.50,408.73h-9M792.50,322.91h9M1422.50,322.91h-9M792.50,237.09h9M1422.50,237.09h-9M792.50,151.27h9M1422.50,151.27h-9M792.50,65.45h9M1422.50,65.45h-9M792.50,451.64h4.5M1422.50,451.64h-4.5M792.50,365.82h4.5M1422.50,365.82h-4.5M792.50,280.00h4.5M1422.50,280.00h-4.5M792.50,194.18h4.5M1422.50,194.18h-4.5M792.50,108.36h4.5M1422.50,108.36h-4.5"/>
<rect x="792.50" y="43.99" width="630.00" height="472.01" fill="none" stroke="#000" stroke-width="2"/>
<text x="807.50" y="547.61" font-size="29" text-anchor="middle">0.0</text>
<text x="957.50" y="547.61" font-size="29" text-anchor="middle">0.5</text>
<text x="1107.50" y="547.61" font-size="29" text-anchor="middle">1.0</text>
<text x="1257.50" y="547.61" font-size="29" text-anchor="middle">1.5</text>
<text x="1407.50" y="547.61" font-size="29" text-anchor="middle">2.0</text>
<text x="782.50" y="503.15" font-size="29" text-anchor="end">0.0</text>
<text x="782.50" y="417.33" font-size="29" text-anchor="end">0.2</text>
<text x="782.50" y="331.51" font-size="29" text-anchor="end">0.4</text>
<text x="782.50" y="245.69" font-size="29" text-anchor="end">0.6</text>
<text x="782.50" y="159.87" font-size="29" text-anchor="end">0.8</text>
<text x="782.50" y="74.05" font-size="29" text-anchor="end">1.0</text>
<text x="809.50" y="77.60" font-size="28">(b)</text>
<text x="1107.50" y="1147.50" font-size="31" font-style="italic" text-anchor="middle">R</text>
</g>
<g>
<polyline fill="none" stroke="#44aca5" stroke-width="1.00" stroke-linejoin="round" points="98.90,1045.60 128.90,1045.60 158.90,1045.60 188.90,1045.60 218.90,1045.60 248.90,1045.60 278.90,1045.60 308.90,1045.60 338.90,1045.60 368.90,1045.60 398.90,616.40 428.90,616.40 458.90,616.40 488.90,616.40 518.90,616.40 548.90,616.40 578.90,616.40 608.90,616.40 638.90,616.40 668.90,616.40 698.90,616.40"/>
<path fill="none" stroke="#44aca5" stroke-width="2.20" stroke-linejoin="round" d="M98.90,1040.70L94.66,1043.15L94.66,1048.05L98.90,1050.50L103.14,1048.05L103.14,1043.15ZM128.90,1040.70L124.66,1043.15L124.66,1048.05L128.90,1050.50L133.14,1048.05L133.14,1043.15ZM158.90,1040.70L154.66,1043.15L154.66,1048.05L158.90,1050.50L163.14,1048.05L163.14,1043.15ZM188.90,1040.70L184.66,1043.15L184.66,1048.05L188.90,1050.50L193.14,1048.05L193.14,1043.15ZM218.90,1040.70L214.66,1043.15L214.66,1048.05L218.90,1050.50L223.14,1048.05L223.14,1043.15ZM248.90,1040.70L244.66,1043.15L244.66,1048.05L248.90,1050.50L253.14,1048.05L253.14,1043.15ZM278.90,1040.70L274.66,1043.15L274.66,1048.05L278.90,1050.50L283.14,1048.05L283.14,1043.15ZM308.90,1040.70L304.66,1043.15L304.66,1048.05L308.90,1050.50L313.14,1048.05L313.14,1043.15ZM338.90,1040.70L334.66,1043.15L334.66,1048.05L338.90,1050.50L343.14,1048.05L343.14,1043.15ZM368.90,1040.70L364.66,1043.15L364.66,1048.05L368.90,1050.50L373.14,1048.05L373.14,1043.15ZM398.90,611.50L394.66,613.95L394.66,618.85L398.90,621.30L403.14,618.85L403.14,613.95ZM428.90,611.50L424.66,613.95L424.66,618.85L428.90,621.30L433.14,618.85L433.14,613.95ZM458.90,611.50L454.66,613.95L454.66,618.85L458.90,621.30L463.14,618.85L463.14,613.95ZM488.90,611.50L484.66,613.95L484.66,618.85L488.90,621.30L493.14,618.85L493.14,613.95ZM518.90,611.50L514.66,613.95L514.66,618.85L518.90,621.30L523.14,618.85L523.14,613.95ZM548.90,611.50L544.66,613.95L544.66,618.85L548.90,621.30L553.14,618.85L553.14,613.95ZM578.90,611.50L574.66,613.95L574.66,618.85L578.90,621.30L583.14,618.85L583.14,613.95ZM608.90,611.50L604.66,613.95L604.66,618.85L608.90,621.30L613.14,618.85L613.14,613.95ZM638.90,611.50L634.66,613.95L634.66,618.85L638.90,621.30L643.14,618.85L643.14,613.95ZM668.90,611.50L664.66,613.95L664.66,618.85L668.90,621.30L673.14,618.85L673.14,613.95ZM698.90,611.50L694.66,613.95L694.66,618.85L698.90,621.30L703.14,618.85L703.14,613.95Z"/>
<polyline fill="none" stroke="#1f60a2" stroke-width="1.00" stroke-linejoin="round" points="98.90,1003.54 128.90,994.95 158.90,1005.68 188.90,998.39 218.90,997.10 248.90,1001.82 278.90,996.24 308.90,989.37 338.90,985.51 368.90,732.28 398.90,674.34 428.90,664.90 458.90,652.88 488.90,667.90 518.90,658.46 548.90,652.88 578.90,660.18 608.90,664.04 638.90,649.88 668.90,654.60 698.90,663.18"/>
<path fill="none" stroke="#1f60a2" stroke-width="2.20" stroke-linejoin="round" d="M98.90,998.64L94.66,1001.09L94.66,1005.99L98.90,1008.44L103.14,1005.99L103.14,1001.09ZM128.90,990.05L124.66,992.50L124.66,997.40L128.90,999.85L133.14,997.40L133.14,992.50ZM158.90,1000.78L154.66,1003.23L154.66,1008.13L158.90,1010.58L163.14,1008.13L163.14,1003.23ZM188.90,993.49L184.66,995.94L184.66,1000.84L188.90,1003.29L193.14,1000.84L193.14,995.94ZM218.90,992.20L214.66,994.65L214.66,999.55L218.90,1002.00L223.14,999.55L223.14,994.65ZM248.90,996.92L244.66,999.37L244.66,1004.27L248.90,1006.72L253.14,1004.27L253.14,999.37ZM278.90,991.34L274.66,993.79L274.66,998.69L278.90,1001.14L283.14,998.69L283.14,993.79ZM308.90,984.47L304.66,986.92L304.66,991.82L308.90,994.27L313.14,991.82L313.14,986.92ZM338.90,980.61L334.66,983.06L334.66,987.96L338.90,990.41L343.14,987.96L343.14,983.06ZM368.90,727.38L364.66,729.83L364.66,734.73L368.90,737.18L373.14,734.73L373.14,729.83ZM398.90,669.44L394.66,671.89L394.66,676.79L398.90,679.24L403.14,676.79L403.14,671.89ZM428.90,660.00L424.66,662.45L424.66,667.35L428.90,669.80L433.14,667.35L433.14,662.45ZM458.90,647.98L454.66,650.43L454.66,655.33L458.90,657.78L463.14,655.33L463.14,650.43ZM488.90,663.00L484.66,665.45L484.66,670.35L488.90,672.80L493.14,670.35L493.14,665.45ZM518.90,653.56L514.66,656.01L514.66,660.91L518.90,663.36L523.14,660.91L523.14,656.01ZM548.90,647.98L544.66,650.43L544.66,655.33L548.90,657.78L553.14,655.33L553.14,650.43ZM578.90,655.28L574.66,657.73L574.66,662.63L578.90,665.08L583.14,662.63L583.14,657.73ZM608.90,659.14L604.66,661.59L604.66,666.49L608.90,668.94L613.14,666.49L613.14,661.59ZM638.90,644.98L634.66,647.43L634.66,652.33L638.90,654.78L643.14,652.33L643.14,647.43ZM668.90,649.70L664.66,652.15L664.66,657.05L668.90,659.50L673.14,657.05L673.14,652.15ZM698.90,658.28L694.66,660.73L694.66,665.63L698.90,668.08L703.14,665.63L703.14,660.73Z"/>
<polyline fill="none" stroke="#6b9cac" stroke-width="1.00" stroke-linejoin="round" points="98.90,965.34 128.90,963.19 158.90,948.17 188.90,954.18 218.90,952.89 248.90,955.47 278.90,960.19 308.90,937.01 338.90,898.81 368.90,713.83 398.90,700.52 428.90,700.52 458.90,703.10 488.90,712.97 518.90,695.80 548.90,704.39 578.90,702.24 608.90,693.23 638.90,700.52 668.90,706.53 698.90,703.10"/>
<path fill="none" stroke="#6b9cac" stroke-width="2.20" stroke-linejoin="round" d="M98.90,960.44L94.66,962.89L94.66,967.79L98.90,970.24L103.14,967.79L103.14,962.89ZM128.90,958.29L124.66,960.74L124.66,965.64L128.90,968.09L133.14,965.64L133.14,960.74ZM158.90,943.27L154.66,945.72L154.66,950.62L158.90,953.07L163.14,950.62L163.14,945.72ZM188.90,949.28L184.66,951.73L184.66,956.63L188.90,959.08L193.14,956.63L193.14,951.73ZM218.90,947.99L214.66,950.44L214.66,955.34L218.90,957.79L223.14,955.34L223.14,950.44ZM248.90,950.57L244.66,953.02L244.66,957.92L248.90,960.37L253.14,957.92L253.14,953.02ZM278.90,955.29L274.66,957.74L274.66,962.64L278.90,965.09L283.14,962.64L283.14,957.74ZM308.90,932.11L304.66,934.56L304.66,939.46L308.90,941.91L313.14,939.46L313.14,934.56ZM338.90,893.91L334.66,896.36L334.66,901.26L338.90,903.71L343.14,901.26L343.14,896.36ZM368.90,708.93L364.66,711.38L364.66,716.28L368.90,718.73L373.14,716.28L373.14,711.38ZM398.90,695.62L394.66,698.07L394.66,702.97L398.90,705.42L403.14,702.97L403.14,698.07ZM428.90,695.62L424.66,698.07L424.66,702.97L428.90,705.42L433.14,702.97L433.14,698.07ZM458.90,698.20L454.66,700.65L454.66,705.55L458.90,708.00L463.14,705.55L463.14,700.65ZM488.90,708.07L484.66,710.52L484.66,715.42L488.90,717.87L493.14,715.42L493.14,710.52ZM518.90,690.90L514.66,693.35L514.66,698.25L518.90,700.70L523.14,698.25L523.14,693.35ZM548.90,699.49L544.66,701.94L544.66,706.84L548.90,709.29L553.14,706.84L553.14,701.94ZM578.90,697.34L574.66,699.79L574.66,704.69L578.90,707.14L583.14,704.69L583.14,699.79ZM608.90,688.33L604.66,690.78L604.66,695.68L608.90,698.13L613.14,695.68L613.14,690.78ZM638.90,695.62L634.66,698.07L634.66,702.97L638.90,705.42L643.14,702.97L643.14,698.07ZM668.90,701.63L664.66,704.08L664.66,708.98L668.90,711.43L673.14,708.98L673.14,704.08ZM698.90,698.20L694.66,700.65L694.66,705.55L698.90,708.00L703.14,705.55L703.14,700.65Z"/>
<polyline fill="none" stroke="#d6dcb4" stroke-width="1.00" stroke-linejoin="round" points="98.90,920.70 128.90,928.00 158.90,921.13 188.90,924.14 218.90,915.12 248.90,918.99 278.90,921.13 308.90,915.98 338.90,911.26 368.90,741.73 398.90,760.61 428.90,751.60 458.90,746.02 488.90,741.73 518.90,741.73 548.90,743.87 578.90,735.72 608.90,747.31 638.90,747.31 668.90,740.44 698.90,741.73"/>
<path fill="none" stroke="#d6dcb4" stroke-width="2.20" stroke-linejoin="round" d="M98.90,915.80L94.66,918.25L94.66,923.15L98.90,925.60L103.14,923.15L103.14,918.25ZM128.90,923.10L124.66,925.55L124.66,930.45L128.90,932.90L133.14,930.45L133.14,925.55ZM158.90,916.23L154.66,918.68L154.66,923.58L158.90,926.03L163.14,923.58L163.14,918.68ZM188.90,919.24L184.66,921.69L184.66,926.59L188.90,929.04L193.14,926.59L193.14,921.69ZM218.90,910.22L214.66,912.67L214.66,917.57L218.90,920.02L223.14,917.57L223.14,912.67ZM248.90,914.09L244.66,916.54L244.66,921.44L248.90,923.89L253.14,921.44L253.14,916.54ZM278.90,916.23L274.66,918.68L274.66,923.58L278.90,926.03L283.14,923.58L283.14,918.68ZM308.90,911.08L304.66,913.53L304.66,918.43L308.90,920.88L313.14,918.43L313.14,913.53ZM338.90,906.36L334.66,908.81L334.66,913.71L338.90,916.16L343.14,913.71L343.14,908.81ZM368.90,736.83L364.66,739.28L364.66,744.18L368.90,746.63L373.14,744.18L373.14,739.28ZM398.90,755.71L394.66,758.16L394.66,763.06L398.90,765.51L403.14,763.06L403.14,758.16ZM428.90,746.70L424.66,749.15L424.66,754.05L428.90,756.50L433.14,754.05L433.14,749.15ZM458.90,741.12L454.66,743.57L454.66,748.47L458.90,750.92L463.14,748.47L463.14,743.57ZM488.90,736.83L484.66,739.28L484.66,744.18L488.90,746.63L493.14,744.18L493.14,739.28ZM518.90,736.83L514.66,739.28L514.66,744.18L518.90,746.63L523.14,744.18L523.14,739.28ZM548.90,738.97L544.66,741.42L544.66,746.32L548.90,748.77L553.14,746.32L553.14,741.42ZM578.90,730.82L574.66,733.27L574.66,738.17L578.90,740.62L583.14,738.17L583.14,733.27ZM608.90,742.41L604.66,744.86L604.66,749.76L608.90,752.21L613.14,749.76L613.14,744.86ZM638.90,742.41L634.66,744.86L634.66,749.76L638.90,752.21L643.14,749.76L643.14,744.86ZM668.90,735.54L664.66,737.99L664.66,742.89L668.90,745.34L673.14,742.89L673.14,737.99ZM698.90,736.83L694.66,739.28L694.66,744.18L698.90,746.63L703.14,744.18L703.14,739.28Z"/>
<polyline fill="none" stroke="#ec9c66" stroke-width="1.00" stroke-linejoin="round" points="98.90,876.92 128.90,881.65 158.90,874.78 188.90,874.78 218.90,869.63 248.90,875.64 278.90,880.79 308.90,824.99 338.90,800.10 368.90,786.79 398.90,786.79 428.90,783.79 458.90,783.79 488.90,788.51 518.90,787.65 548.90,792.37 578.90,790.23 608.90,784.65 638.90,784.65 668.90,784.65 698.90,792.37"/>
<path fill="none" stroke="#ec9c66" stroke-width="2.20" stroke-linejoin="round" d="M98.90,872.02L94.66,874.47L94.66,879.37L98.90,881.82L103.14,879.37L103.14,874.47ZM128.90,876.75L124.66,879.20L124.66,884.10L128.90,886.55L133.14,884.10L133.14,879.20ZM158.90,869.88L154.66,872.33L154.66,877.23L158.90,879.68L163.14,877.23L163.14,872.33ZM188.90,869.88L184.66,872.33L184.66,877.23L188.90,879.68L193.14,877.23L193.14,872.33ZM218.90,864.73L214.66,867.18L214.66,872.08L218.90,874.53L223.14,872.08L223.14,867.18ZM248.90,870.74L244.66,873.19L244.66,878.09L248.90,880.54L253.14,878.09L253.14,873.19ZM278.90,875.89L274.66,878.34L274.66,883.24L278.90,885.69L283.14,883.24L283.14,878.34ZM308.90,820.09L304.66,822.54L304.66,827.44L308.90,829.89L313.14,827.44L313.14,822.54ZM338.90,795.20L334.66,797.65L334.66,802.55L338.90,805.00L343.14,802.55L343.14,797.65ZM368.90,781.89L364.66,784.34L364.66,789.24L368.90,791.69L373.14,789.24L373.14,784.34ZM398.90,781.89L394.66,784.34L394.66,789.24L398.90,791.69L403.14,789.24L403.14,784.34ZM428.90,778.89L424.66,781.34L424.66,786.24L428.90,788.69L433.14,786.24L433.14,781.34ZM458.90,778.89L454.66,781.34L454.66,786.24L458.90,788.69L463.14,786.24L463.14,781.34ZM488.90,783.61L484.66,786.06L484.66,790.96L488.90,793.41L493.14,790.96L493.14,786.06ZM518.90,782.75L514.66,785.20L514.66,790.10L518.90,792.55L523.14,790.10L523.14,785.20ZM548.90,787.47L544.66,789.92L544.66,794.82L548.90,797.27L553.14,794.82L553.14,789.92ZM578.90,785.33L574.66,787.78L574.66,792.68L578.90,795.13L583.14,792.68L583.14,787.78ZM608.90,779.75L604.66,782.20L604.66,787.10L608.90,789.55L613.14,787.10L613.14,782.20ZM638.90,779.75L634.66,782.20L634.66,787.10L638.90,789.55L643.14,787.10L643.14,782.20ZM668.90,779.75L664.66,782.20L664.66,787.10L668.90,789.55L673.14,787.10L673.14,782.20ZM698.90,787.47L694.66,789.92L694.66,794.82L698.90,797.27L703.14,794.82L703.14,789.92Z"/>
<polyline fill="none" stroke="#cf5648" stroke-width="1.00" stroke-linejoin="round" points="98.90,832.72 128.90,834.00 158.90,829.28 188.90,832.29 218.90,829.28 248.90,830.14 278.90,828.85 308.90,831.86 338.90,831.43 368.90,830.57 398.90,836.15 428.90,827.14 458.90,833.58 488.90,828.85 518.90,831.43 548.90,831.43 578.90,826.71 608.90,831.43 638.90,831.43 668.90,831.43 698.90,831.43"/>
<path fill="none" stroke="#cf5648" stroke-width="2.20" stroke-linejoin="round" d="M98.90,827.82L94.66,830.27L94.66,835.17L98.90,837.62L103.14,835.17L103.14,830.27ZM128.90,829.10L124.66,831.55L124.66,836.45L128.90,838.90L133.14,836.45L133.14,831.55ZM158.90,824.38L154.66,826.83L154.66,831.73L158.90,834.18L163.14,831.73L163.14,826.83ZM188.90,827.39L184.66,829.84L184.66,834.74L188.90,837.19L193.14,834.74L193.14,829.84ZM218.90,824.38L214.66,826.83L214.66,831.73L218.90,834.18L223.14,831.73L223.14,826.83ZM248.90,825.24L244.66,827.69L244.66,832.59L248.90,835.04L253.14,832.59L253.14,827.69ZM278.90,823.95L274.66,826.40L274.66,831.30L278.90,833.75L283.14,831.30L283.14,826.40ZM308.90,826.96L304.66,829.41L304.66,834.31L308.90,836.76L313.14,834.31L313.14,829.41ZM338.90,826.53L334.66,828.98L334.66,833.88L338.90,836.33L343.14,833.88L343.14,828.98ZM368.90,825.67L364.66,828.12L364.66,833.02L368.90,835.47L373.14,833.02L373.14,828.12ZM398.90,831.25L394.66,833.70L394.66,838.60L398.90,841.05L403.14,838.60L403.14,833.70ZM428.90,822.24L424.66,824.69L424.66,829.59L428.90,832.04L433.14,829.59L433.14,824.69ZM458.90,828.68L454.66,831.13L454.66,836.03L458.90,838.48L463.14,836.03L463.14,831.13ZM488.90,823.95L484.66,826.40L484.66,831.30L488.90,833.75L493.14,831.30L493.14,826.40ZM518.90,826.53L514.66,828.98L514.66,833.88L518.90,836.33L523.14,833.88L523.14,828.98ZM548.90,826.53L544.66,828.98L544.66,833.88L548.90,836.33L553.14,833.88L553.14,828.98ZM578.90,821.81L574.66,824.26L574.66,829.16L578.90,831.61L583.14,829.16L583.14,824.26ZM608.90,826.53L604.66,828.98L604.66,833.88L608.90,836.33L613.14,833.88L613.14,828.98ZM638.90,826.53L634.66,828.98L634.66,833.88L638.90,836.33L643.14,833.88L643.14,828.98ZM668.90,826.53L664.66,828.98L664.66,833.88L668.90,836.33L673.14,833.88L673.14,828.98ZM698.90,826.53L694.66,828.98L694.66,833.88L698.90,836.33L703.14,833.88L703.14,828.98Z"/>
<path fill="none" stroke="#000" stroke-width="1.8" d="M98.90,1067.06v-9M98.90,594.94v9M248.90,1067.06v-9M248.90,594.94v9M398.90,1067.06v-9M398.90,594.94v9M548.90,1067.06v-9M548.90,594.94v9M698.90,1067.06v-9M698.90,594.94v9M173.90,1067.06v-4.5M173.90,594.94v4.5M323.90,1067.06v-4.5M323.90,594.94v4.5M473.90,1067.06v-4.5M473.90,594.94v4.5M623.90,1067.06v-4.5M623.90,594.94v4.5M83.90,1045.60h9M713.90,1045.60h-9M83.90,959.76h9M713.90,959.76h-9M83.90,873.92h9M713.90,873.92h-9M83.90,788.08h9M713.90,788.08h-9M83.90,702.24h9M713.90,702.24h-9M83.90,616.40h9M713.90,616.40h-9M83.90,1002.68h4.5M713.90,1002.68h-4.5M83.90,916.84h4.5M713.90,916.84h-4.5M83.90,831.00h4.5M713.90,831.00h-4.5M83.90,745.16h4.5M713.90,745.16h-4.5M83.90,659.32h4.5M713.90,659.32h-4.5"/>
<rect x="83.90" y="594.94" width="630.00" height="472.12" fill="none" stroke="#000" stroke-width="2"/>
<text x="98.90" y="1098.66" font-size="29" text-anchor="middle">0.0</text>
<text x="248.90" y="1098.66" font-size="29" text-anchor="middle">0.5</text>
<text x="398.90" y="1098.66" font-size="29" text-anchor="middle">1.0</text>
<text x="548.90" y="1098.66" font-size="29" text-anchor="middle">1.5</text>
<text x="698.90" y="1098.66" font-size="29" text-anchor="middle">2.0</text>
<text x="73.90" y="1054.20" font-size="29" text-anchor="end">0.0</text>
<text x="73.90" y="968.36" font-size="29" text-anchor="end">0.2</text>
<text x="73.90" y="882.52" font-size="29" text-anchor="end">0.4</text>
<text x="73.90" y="796.68" font-size="29" text-anchor="end">0.6</text>
<text x="73.90" y="710.84" font-size="29" text-anchor="end">0.8</text>
<text x="73.90" y="625.00" font-size="29" text-anchor="end">1.0</text>
<text x="98.20" y="630.40" font-size="28">(c)</text>
<text x="398.90" y="1147.50" font-size="31" font-style="italic" text-anchor="middle">R</text>
</g>
<g>
<polyline fill="none" stroke="#44aca5" stroke-width="1.00" stroke-linejoin="round" points="807.50,1045.60 837.50,1045.60 867.50,1045.60 897.50,1045.60 927.50,616.40 957.50,616.40 987.50,616.40 1017.50,616.40 1047.50,616.40 1077.50,616.40 1107.50,616.40 1137.50,616.40 1167.50,616.40 1197.50,616.40 1227.50,616.40 1257.50,616.40 1287.50,616.40 1317.50,616.40 1347.50,616.40 1377.50,616.40 1407.50,616.40"/>
<path fill="none" stroke="#44aca5" stroke-width="2.20" stroke-linejoin="round" d="M807.50,1040.70L803.26,1043.15L803.26,1048.05L807.50,1050.50L811.74,1048.05L811.74,1043.15ZM837.50,1040.70L833.26,1043.15L833.26,1048.05L837.50,1050.50L841.74,1048.05L841.74,1043.15ZM867.50,1040.70L863.26,1043.15L863.26,1048.05L867.50,1050.50L871.74,1048.05L871.74,1043.15ZM897.50,1040.70L893.26,1043.15L893.26,1048.05L897.50,1050.50L901.74,1048.05L901.74,1043.15ZM927.50,611.50L923.26,613.95L923.26,618.85L927.50,621.30L931.74,618.85L931.74,613.95ZM957.50,611.50L953.26,613.95L953.26,618.85L957.50,621.30L961.74,618.85L961.74,613.95ZM987.50,611.50L983.26,613.95L983.26,618.85L987.50,621.30L991.74,618.85L991.74,613.95ZM1017.50,611.50L1013.26,613.95L1013.26,618.85L1017.50,621.30L1021.74,618.85L1021.74,613.95ZM1047.50,611.50L1043.26,613.95L1043.26,618.85L1047.50,621.30L1051.74,618.85L1051.74,613.95ZM1077.50,611.50L1073.26,613.95L1073.26,618.85L1077.50,621.30L1081.74,618.85L1081.74,613.95ZM1107.50,611.50L1103.26,613.95L1103.26,618.85L1107.50,621.30L1111.74,618.85L1111.74,613.95ZM1137.50,611.50L1133.26,613.95L1133.26,618.85L1137.50,621.30L1141.74,618.85L1141.74,613.95ZM1167.50,611.50L1163.26,613.95L1163.26,618.85L1167.50,621.30L1171.74,618.85L1171.74,613.95ZM1197.50,611.50L1193.26,613.95L1193.26,618.85L1197.50,621.30L1201.74,618.85L1201.74,613.95ZM1227.50,611.50L1223.26,613.95L1223.26,618.85L1227.50,621.30L1231.74,618.85L1231.74,613.95ZM1257.50,611.50L1253.26,613.95L1253.26,618.85L1257.50,621.30L1261.74,618.85L1261.74,613.95ZM1287.50,611.50L1283.26,613.95L1283.26,618.85L1287.50,621.30L1291.74,618.85L1291.74,613.95ZM1317.50,611.50L1313.26,613.95L1313.26,618.85L1317.50,621.30L1321.74,618.85L1321.74,613.95ZM1347.50,611.50L1343.26,613.95L1343.26,618.85L1347.50,621.30L1351.74,618.85L1351.74,613.95ZM1377.50,611.50L1373.26,613.95L1373.26,618.85L1377.50,621.30L1381.74,618.85L1381.74,613.95ZM1407.50,611.50L1403.26,613.95L1403.26,618.85L1407.50,621.30L1411.74,618.85L1411.74,613.95Z"/>
<polyline fill="none" stroke="#1f60a2" stroke-width="1.00" stroke-linejoin="round" points="807.50,1005.68 837.50,934.01 867.50,672.63 897.50,664.47 927.50,661.04 957.50,656.32 987.50,663.18 1017.50,660.18 1047.50,660.18 1077.50,657.60 1107.50,662.75 1137.50,657.60 1167.50,653.31 1197.50,657.17 1227.50,660.18 1257.50,661.47 1287.50,658.46 1317.50,662.32 1347.50,653.31 1377.50,656.74 1407.50,661.47"/>
<path fill="none" stroke="#1f60a2" stroke-width="2.20" stroke-linejoin="round" d="M807.50,1000.78L803.26,1003.23L803.26,1008.13L807.50,1010.58L811.74,1008.13L811.74,1003.23ZM837.50,929.11L833.26,931.56L833.26,936.46L837.50,938.91L841.74,936.46L841.74,931.56ZM867.50,667.73L863.26,670.18L863.26,675.08L867.50,677.53L871.74,675.08L871.74,670.18ZM897.50,659.57L893.26,662.02L893.26,666.92L897.50,669.37L901.74,666.92L901.74,662.02ZM927.50,656.14L923.26,658.59L923.26,663.49L927.50,665.94L931.74,663.49L931.74,658.59ZM957.50,651.42L953.26,653.87L953.26,658.77L957.50,661.22L961.74,658.77L961.74,653.87ZM987.50,658.28L983.26,660.73L983.26,665.63L987.50,668.08L991.74,665.63L991.74,660.73ZM1017.50,655.28L1013.26,657.73L1013.26,662.63L1017.50,665.08L1021.74,662.63L1021.74,657.73ZM1047.50,655.28L1043.26,657.73L1043.26,662.63L1047.50,665.08L1051.74,662.63L1051.74,657.73ZM1077.50,652.70L1073.26,655.15L1073.26,660.05L1077.50,662.50L1081.74,660.05L1081.74,655.15ZM1107.50,657.85L1103.26,660.30L1103.26,665.20L1107.50,667.65L1111.74,665.20L1111.74,660.30ZM1137.50,652.70L1133.26,655.15L1133.26,660.05L1137.50,662.50L1141.74,660.05L1141.74,655.15ZM1167.50,648.41L1163.26,650.86L1163.26,655.76L1167.50,658.21L1171.74,655.76L1171.74,650.86ZM1197.50,652.27L1193.26,654.72L1193.26,659.62L1197.50,662.07L1201.74,659.62L1201.74,654.72ZM1227.50,655.28L1223.26,657.73L1223.26,662.63L1227.50,665.08L1231.74,662.63L1231.74,657.73ZM1257.50,656.57L1253.26,659.02L1253.26,663.92L1257.50,666.37L1261.74,663.92L1261.74,659.02ZM1287.50,653.56L1283.26,656.01L1283.26,660.91L1287.50,663.36L1291.74,660.91L1291.74,656.01ZM1317.50,657.42L1313.26,659.87L1313.26,664.77L1317.50,667.22L1321.74,664.77L1321.74,659.87ZM1347.50,648.41L1343.26,650.86L1343.26,655.76L1347.50,658.21L1351.74,655.76L1351.74,650.86ZM1377.50,651.84L1373.26,654.29L1373.26,659.19L1377.50,661.64L1381.74,659.19L1381.74,654.29ZM1407.50,656.57L1403.26,659.02L1403.26,663.92L1407.50,666.37L1411.74,663.92L1411.74,659.02Z"/>
<polyline fill="none" stroke="#6b9cac" stroke-width="1.00" stroke-linejoin="round" points="807.50,955.90 837.50,821.99 867.50,722.41 897.50,710.82 927.50,704.39 957.50,706.53 987.50,701.38 1017.50,706.53 1047.50,707.39 1077.50,704.82 1107.50,698.38 1137.50,701.38 1167.50,695.37 1197.50,705.24 1227.50,699.66 1257.50,699.24 1287.50,710.39 1317.50,703.53 1347.50,705.24 1377.50,705.24 1407.50,701.81"/>
<path fill="none" stroke="#6b9cac" stroke-width="2.20" stroke-linejoin="round" d="M807.50,951.00L803.26,953.45L803.26,958.35L807.50,960.80L811.74,958.35L811.74,953.45ZM837.50,817.09L833.26,819.54L833.26,824.44L837.50,826.89L841.74,824.44L841.74,819.54ZM867.50,717.51L863.26,719.96L863.26,724.86L867.50,727.31L871.74,724.86L871.74,719.96ZM897.50,705.92L893.26,708.37L893.26,713.27L897.50,715.72L901.74,713.27L901.74,708.37ZM927.50,699.49L923.26,701.94L923.26,706.84L927.50,709.29L931.74,706.84L931.74,701.94ZM957.50,701.63L953.26,704.08L953.26,708.98L957.50,711.43L961.74,708.98L961.74,704.08ZM987.50,696.48L983.26,698.93L983.26,703.83L987.50,706.28L991.74,703.83L991.74,698.93ZM1017.50,701.63L1013.26,704.08L1013.26,708.98L1017.50,711.43L1021.74,708.98L1021.74,704.08ZM1047.50,702.49L1043.26,704.94L1043.26,709.84L1047.50,712.29L1051.74,709.84L1051.74,704.94ZM1077.50,699.92L1073.26,702.37L1073.26,707.27L1077.50,709.72L1081.74,707.27L1081.74,702.37ZM1107.50,693.48L1103.26,695.93L1103.26,700.83L1107.50,703.28L1111.74,700.83L1111.74,695.93ZM1137.50,696.48L1133.26,698.93L1133.26,703.83L1137.50,706.28L1141.74,703.83L1141.74,698.93ZM1167.50,690.47L1163.26,692.92L1163.26,697.82L1167.50,700.27L1171.74,697.82L1171.74,692.92ZM1197.50,700.34L1193.26,702.79L1193.26,707.69L1197.50,710.14L1201.74,707.69L1201.74,702.79ZM1227.50,694.76L1223.26,697.21L1223.26,702.11L1227.50,704.56L1231.74,702.11L1231.74,697.21ZM1257.50,694.34L1253.26,696.79L1253.26,701.69L1257.50,704.14L1261.74,701.69L1261.74,696.79ZM1287.50,705.49L1283.26,707.94L1283.26,712.84L1287.50,715.29L1291.74,712.84L1291.74,707.94ZM1317.50,698.63L1313.26,701.08L1313.26,705.98L1317.50,708.43L1321.74,705.98L1321.74,701.08ZM1347.50,700.34L1343.26,702.79L1343.26,707.69L1347.50,710.14L1351.74,707.69L1351.74,702.79ZM1377.50,700.34L1373.26,702.79L1373.26,707.69L1377.50,710.14L1381.74,707.69L1381.74,702.79ZM1407.50,696.91L1403.26,699.36L1403.26,704.26L1407.50,706.71L1411.74,704.26L1411.74,699.36Z"/>
<polyline fill="none" stroke="#d6dcb4" stroke-width="1.00" stroke-linejoin="round" points="807.50,918.99 837.50,870.06 867.50,748.16 897.50,751.60 927.50,739.15 957.50,745.59 987.50,747.31 1017.50,746.02 1047.50,743.87 1077.50,745.59 1107.50,740.44 1137.50,742.16 1167.50,741.73 1197.50,743.87 1227.50,746.02 1257.50,749.45 1287.50,738.72 1317.50,749.45 1347.50,747.31 1377.50,740.87 1407.50,746.02"/>
<path fill="none" stroke="#d6dcb4" stroke-width="2.20" stroke-linejoin="round" d="M807.50,914.09L803.26,916.54L803.26,921.44L807.50,923.89L811.74,921.44L811.74,916.54ZM837.50,865.16L833.26,867.61L833.26,872.51L837.50,874.96L841.74,872.51L841.74,867.61ZM867.50,743.26L863.26,745.71L863.26,750.61L867.50,753.06L871.74,750.61L871.74,745.71ZM897.50,746.70L893.26,749.15L893.26,754.05L897.50,756.50L901.74,754.05L901.74,749.15ZM927.50,734.25L923.26,736.70L923.26,741.60L927.50,744.05L931.74,741.60L931.74,736.70ZM957.50,740.69L953.26,743.14L953.26,748.04L957.50,750.49L961.74,748.04L961.74,743.14ZM987.50,742.41L983.26,744.86L983.26,749.76L987.50,752.21L991.74,749.76L991.74,744.86ZM1017.50,741.12L1013.26,743.57L1013.26,748.47L1017.50,750.92L1021.74,748.47L1021.74,743.57ZM1047.50,738.97L1043.26,741.42L1043.26,746.32L1047.50,748.77L1051.74,746.32L1051.74,741.42ZM1077.50,740.69L1073.26,743.14L1073.26,748.04L1077.50,750.49L1081.74,748.04L1081.74,743.14ZM1107.50,735.54L1103.26,737.99L1103.26,742.89L1107.50,745.34L1111.74,742.89L1111.74,737.99ZM1137.50,737.26L1133.26,739.71L1133.26,744.61L1137.50,747.06L1141.74,744.61L1141.74,739.71ZM1167.50,736.83L1163.26,739.28L1163.26,744.18L1167.50,746.63L1171.74,744.18L1171.74,739.28ZM1197.50,738.97L1193.26,741.42L1193.26,746.32L1197.50,748.77L1201.74,746.32L1201.74,741.42ZM1227.50,741.12L1223.26,743.57L1223.26,748.47L1227.50,750.92L1231.74,748.47L1231.74,743.57ZM1257.50,744.55L1253.26,747.00L1253.26,751.90L1257.50,754.35L1261.74,751.90L1261.74,747.00ZM1287.50,733.82L1283.26,736.27L1283.26,741.17L1287.50,743.62L1291.74,741.17L1291.74,736.27ZM1317.50,744.55L1313.26,747.00L1313.26,751.90L1317.50,754.35L1321.74,751.90L1321.74,747.00ZM1347.50,742.41L1343.26,744.86L1343.26,749.76L1347.50,752.21L1351.74,749.76L1351.74,744.86ZM1377.50,735.97L1373.26,738.42L1373.26,743.32L1377.50,745.77L1381.74,743.32L1381.74,738.42ZM1407.50,741.12L1403.26,743.57L1403.26,748.47L1407.50,750.92L1411.74,748.47L1411.74,743.57Z"/>
<polyline fill="none" stroke="#ec9c66" stroke-width="1.00" stroke-linejoin="round" points="807.50,873.92 837.50,816.41 867.50,787.65 897.50,789.80 927.50,785.50 957.50,790.23 987.50,791.94 1017.50,793.66 1047.50,784.65 1077.50,785.50 1107.50,790.23 1137.50,780.78 1167.50,786.36 1197.50,784.65 1227.50,788.51 1257.50,792.37 1287.50,782.93 1317.50,786.36 1347.50,786.79 1377.50,784.65 1407.50,782.50"/>
<path fill="none" stroke="#ec9c66" stroke-width="2.20" stroke-linejoin="round" d="M807.50,869.02L803.26,871.47L803.26,876.37L807.50,878.82L811.74,876.37L811.74,871.47ZM837.50,811.51L833.26,813.96L833.26,818.86L837.50,821.31L841.74,818.86L841.74,813.96ZM867.50,782.75L863.26,785.20L863.26,790.10L867.50,792.55L871.74,790.10L871.74,785.20ZM897.50,784.90L893.26,787.35L893.26,792.25L897.50,794.70L901.74,792.25L901.74,787.35ZM927.50,780.60L923.26,783.05L923.26,787.95L927.50,790.40L931.74,787.95L931.74,783.05ZM957.50,785.33L953.26,787.78L953.26,792.68L957.50,795.13L961.74,792.68L961.74,787.78ZM987.50,787.04L983.26,789.49L983.26,794.39L987.50,796.84L991.74,794.39L991.74,789.49ZM1017.50,788.76L1013.26,791.21L1013.26,796.11L1017.50,798.56L1021.74,796.11L1021.74,791.21ZM1047.50,779.75L1043.26,782.20L1043.26,787.10L1047.50,789.55L1051.74,787.10L1051.74,782.20ZM1077.50,780.60L1073.26,783.05L1073.26,787.95L1077.50,790.40L1081.74,787.95L1081.74,783.05ZM1107.50,785.33L1103.26,787.78L1103.26,792.68L1107.50,795.13L1111.74,792.68L1111.74,787.78ZM1137.50,775.88L1133.26,778.33L1133.26,783.23L1137.50,785.68L1141.74,783.23L1141.74,778.33ZM1167.50,781.46L1163.26,783.91L1163.26,788.81L1167.50,791.26L1171.74,788.81L1171.74,783.91ZM1197.50,779.75L1193.26,782.20L1193.26,787.10L1197.50,789.55L1201.74,787.10L1201.74,782.20ZM1227.50,783.61L1223.26,786.06L1223.26,790.96L1227.50,793.41L1231.74,790.96L1231.74,786.06ZM1257.50,787.47L1253.26,789.92L1253.26,794.82L1257.50,797.27L1261.74,794.82L1261.74,789.92ZM1287.50,778.03L1283.26,780.48L1283.26,785.38L1287.50,787.83L1291.74,785.38L1291.74,780.48ZM1317.50,781.46L1313.26,783.91L1313.26,788.81L1317.50,791.26L1321.74,788.81L1321.74,783.91ZM1347.50,781.89L1343.26,784.34L1343.26,789.24L1347.50,791.69L1351.74,789.24L1351.74,784.34ZM1377.50,779.75L1373.26,782.20L1373.26,787.10L1377.50,789.55L1381.74,787.10L1381.74,782.20ZM1407.50,777.60L1403.26,780.05L1403.26,784.95L1407.50,787.40L1411.74,784.95L1411.74,780.05Z"/>
<polyline fill="none" stroke="#cf5648" stroke-width="1.00" stroke-linejoin="round" points="807.50,834.43 837.50,832.29 867.50,826.28 897.50,829.71 927.50,828.42 957.50,820.70 987.50,831.43 1017.50,828.85 1047.50,824.13 1077.50,830.57 1107.50,826.71 1137.50,828.85 1167.50,826.71 1197.50,827.57 1227.50,828.42 1257.50,825.85 1287.50,829.71 1317.50,828.85 1347.50,828.42 1377.50,831.00 1407.50,826.28"/>
<path fill="none" stroke="#cf5648" stroke-width="2.20" stroke-linejoin="round" d="M807.50,829.53L803.26,831.98L803.26,836.88L807.50,839.33L811.74,836.88L811.74,831.98ZM837.50,827.39L833.26,829.84L833.26,834.74L837.50,837.19L841.74,834.74L841.74,829.84ZM867.50,821.38L863.26,823.83L863.26,828.73L867.50,831.18L871.74,828.73L871.74,823.83ZM897.50,824.81L893.26,827.26L893.26,832.16L897.50,834.61L901.74,832.16L901.74,827.26ZM927.50,823.52L923.26,825.97L923.26,830.87L927.50,833.32L931.74,830.87L931.74,825.97ZM957.50,815.80L953.26,818.25L953.26,823.15L957.50,825.60L961.74,823.15L961.74,818.25ZM987.50,826.53L983.26,828.98L983.26,833.88L987.50,836.33L991.74,833.88L991.74,828.98ZM1017.50,823.95L1013.26,826.40L1013.26,831.30L1017.50,833.75L1021.74,831.30L1021.74,826.40ZM1047.50,819.23L1043.26,821.68L1043.26,826.58L1047.50,829.03L1051.74,826.58L1051.74,821.68ZM1077.50,825.67L1073.26,828.12L1073.26,833.02L1077.50,835.47L1081.74,833.02L1081.74,828.12ZM1107.50,821.81L1103.26,824.26L1103.26,829.16L1107.50,831.61L1111.74,829.16L1111.74,824.26ZM1137.50,823.95L1133.26,826.40L1133.26,831.30L1137.50,833.75L1141.74,831.30L1141.74,826.40ZM1167.50,821.81L1163.26,824.26L1163.26,829.16L1167.50,831.61L1171.74,829.16L1171.74,824.26ZM1197.50,822.67L1193.26,825.12L1193.26,830.02L1197.50,832.47L1201.74,830.02L1201.74,825.12ZM1227.50,823.52L1223.26,825.97L1223.26,830.87L1227.50,833.32L1231.74,830.87L1231.74,825.97ZM1257.50,820.95L1253.26,823.40L1253.26,828.30L1257.50,830.75L1261.74,828.30L1261.74,823.40ZM1287.50,824.81L1283.26,827.26L1283.26,832.16L1287.50,834.61L1291.74,832.16L1291.74,827.26ZM1317.50,823.95L1313.26,826.40L1313.26,831.30L1317.50,833.75L1321.74,831.30L1321.74,826.40ZM1347.50,823.52L1343.26,825.97L1343.26,830.87L1347.50,833.32L1351.74,830.87L1351.74,825.97ZM1377.50,826.10L1373.26,828.55L1373.26,833.45L1377.50,835.90L1381.74,833.45L1381.74,828.55ZM1407.50,821.38L1403.26,823.83L1403.26,828.73L1407.50,831.18L1411.74,828.73L1411.74,823.83Z"/>
<path fill="none" stroke="#000" stroke-width="1.8" d="M807.50,1067.06v-9M807.50,594.94v9M957.50,1067.06v-9M957.50,594.94v9M1107.50,1067.06v-9M1107.50,594.94v9M1257.50,1067.06v-9M1257.50,594.94v9M1407.50,1067.06v-9M1407.50,594.94v9M882.50,1067.06v-4.5M882.50,594.94v4.5M1032.50,1067.06v-4.5M1032.50,594.94v4.5M1182.50,1067.06v-4.5M1182.50,594.94v4.5M1332.50,1067.06v-4.5M1332.50,594.94v4.5M792.50,1045.60h9M1422.50,1045.60h-9M792.50,959.76h9M1422.50,959.76h-9M792.50,873.92h9M1422.50,873.92h-9M792.50,788.08h9M1422.50,788.08h-9M792.50,702.24h9M1422.50,702.24h-9M792.50,616.40h9M1422.50,616.40h-9M792.50,1002.68h4.5M1422.50,1002.68h-4.5M792.50,916.84h4.5M1422.50,916.84h-4.5M792.50,831.00h4.5M1422.50,831.00h-4.5M792.50,745.16h4.5M1422.50,745.16h-4.5M792.50,659.32h4.5M1422.50,659.32h-4.5"/>
<rect x="792.50" y="594.94" width="630.00" height="472.12" fill="none" stroke="#000" stroke-width="2"/>
<text x="807.50" y="1098.66" font-size="29" text-anchor="middle">0.0</text>
<text x="957.50" y="1098.66" font-size="29" text-anchor="middle">0.5</text>
<text x="1107.50" y="1098.66" font-size="29" text-anchor="middle">1.0</text>
<text x="1257.50" y="1098.66" font-size="29" text-anchor="middle">1.5</text>
<text x="1407.50" y="1098.66" font-size="29" text-anchor="middle">2.0</text>
<text x="782.50" y="1054.20" font-size="29" text-anchor="end">0.0</text>
<text x="782.50" y="968.36" font-size="29" text-anchor="end">0.2</text>
<text x="782.50" y="882.52" font-size="29" text-anchor="end">0.4</text>
<text x="782.50" y="796.68" font-size="29" text-anchor="end">0.6</text>
<text x="782.50" y="710.84" font-size="29" text-anchor="end">0.8</text>
<text x="782.50" y="625.00" font-size="29" text-anchor="end">1.0</text>
<text x="809.80" y="627.70" font-size="28">(d)</text>
<text x="1107.50" y="1147.50" font-size="31" font-style="italic" text-anchor="middle">R</text>
</g>
<text transform="translate(21.0,280.00) rotate(-90)" font-size="31" text-anchor="middle" font-style="italic">F<tspan font-size="21.7" dy="8">C</tspan></text>
<text transform="translate(21.0,830.98) rotate(-90)" font-size="31" text-anchor="middle" font-style="italic">F<tspan font-size="21.7" dy="8">C</tspan></text>
<path d="M68.90,8.7h53.3" stroke="#44aca5" stroke-width="1.00" fill="none"/>
<path d="M95.60,3.80L91.36,6.25L91.36,11.15L95.60,13.60L99.84,11.15L99.84,6.25Z" stroke="#44aca5" stroke-width="2.20" fill="none" stroke-linejoin="round"/>
<text y="18.5" font-size="28"><tspan x="133.65" font-style="italic">p</tspan><tspan x="153.60">=</tspan><tspan x="176.37" font-size="27">0</tspan></text>
<path d="M241.30,8.7h53.3" stroke="#1f60a2" stroke-width="1.00" fill="none"/>
<path d="M268.00,3.80L263.76,6.25L263.76,11.15L268.00,13.60L272.24,11.15L272.24,6.25Z" stroke="#1f60a2" stroke-width="2.20" fill="none" stroke-linejoin="round"/>
<text y="18.5" font-size="28"><tspan x="305.55" font-style="italic">p</tspan><tspan x="326.20">=</tspan><tspan x="348.47" font-size="27">0.2</tspan></text>
<path d="M432.60,8.7h53.3" stroke="#6b9cac" stroke-width="1.00" fill="none"/>
<path d="M459.30,3.80L455.06,6.25L455.06,11.15L459.30,13.60L463.54,11.15L463.54,6.25Z" stroke="#6b9cac" stroke-width="2.20" fill="none" stroke-linejoin="round"/>
<text y="18.5" font-size="28"><tspan x="497.85" font-style="italic">p</tspan><tspan x="518.30">=</tspan><tspan x="540.87" font-size="27">0.4</tspan></text>
<path d="M624.10,8.7h53.3" stroke="#d6dcb4" stroke-width="1.00" fill="none"/>
<path d="M650.80,3.80L646.56,6.25L646.56,11.15L650.80,13.60L655.04,11.15L655.04,6.25Z" stroke="#d6dcb4" stroke-width="2.20" fill="none" stroke-linejoin="round"/>
<text y="18.5" font-size="28"><tspan x="689.65" font-style="italic">p</tspan><tspan x="709.80">=</tspan><tspan x="732.37" font-size="27">0.6</tspan></text>
<path d="M817.40,8.7h53.3" stroke="#ec9c66" stroke-width="1.00" fill="none"/>
<path d="M844.10,3.80L839.86,6.25L839.86,11.15L844.10,13.60L848.34,11.15L848.34,6.25Z" stroke="#ec9c66" stroke-width="2.20" fill="none" stroke-linejoin="round"/>
<text y="18.5" font-size="28"><tspan x="881.35" font-style="italic">p</tspan><tspan x="901.80">=</tspan><tspan x="923.97" font-size="27">0.8</tspan></text>
<path d="M1008.80,8.7h53.3" stroke="#c8606f" stroke-width="1.00" fill="none"/>
<path d="M1035.50,3.80L1031.26,6.25L1031.26,11.15L1035.50,13.60L1039.74,11.15L1039.74,6.25Z" stroke="#c8606f" stroke-width="2.20" fill="none" stroke-linejoin="round"/>
<text y="18.5" font-size="28"><tspan x="1073.35" font-style="italic">p</tspan><tspan x="1093.50">=</tspan><tspan x="1116.22" font-size="27">1</tspan></text>
</svg></body></html>
